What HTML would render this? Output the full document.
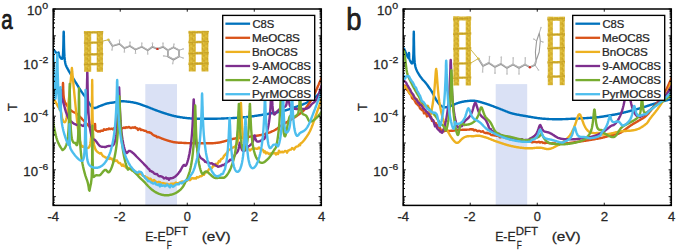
<!DOCTYPE html>
<html><head><meta charset="utf-8"><style>
html,body{margin:0;padding:0;background:#fff;}
body{width:677px;height:251px;overflow:hidden;}
svg{display:block;}
text{font-family:"Liberation Sans", sans-serif;fill:#262626;stroke:#262626;stroke-width:0.25px;}
.tk{font-size:12.5px;}
.sup{font-size:9px;}
.xl{font-size:12.5px;}
.sub{font-size:9.3px;}
.lg{font-size:11px;fill:#000;}
.pl{font-size:22px;fill:#000;}
</style></head><body>
<svg width="677" height="251" viewBox="0 0 677 251">
<defs>
<clipPath id="ca"><rect x="53.2" y="9.0" width="268.10" height="196.40"/></clipPath>
<clipPath id="cb"><rect x="403.2" y="9.0" width="268.10" height="196.40"/></clipPath>
</defs>
<rect x="145.3" y="84.1" width="31.7" height="121.3" fill="#dae1f5"/>
<rect x="495.7" y="84.1" width="31.5" height="121.3" fill="#dae1f5"/>
<g clip-path="url(#ca)">
<path d="M53.0,49.0L53.5,49.6L53.7,49.8L54.0,50.2L54.1,50.3L54.5,50.8L54.9,51.2L55.0,51.3L55.5,51.9L56.0,52.5L56.1,52.6L56.5,53.0L56.7,53.3L57.0,53.5L57.3,53.8L57.5,53.9L57.6,54.0L57.9,54.0L58.0,53.9L58.0,53.9L58.2,53.5L58.3,53.2L58.4,52.8L58.4,52.5L58.5,52.4L58.5,52.4L58.5,52.5L58.6,52.7L58.6,53.1L58.7,53.6L58.8,54.1L58.9,54.6L59.0,54.8L59.0,55.0L59.1,55.3L59.4,56.0L59.5,56.2L59.7,56.6L60.0,57.0L60.3,57.4L60.5,57.7L60.9,58.2L61.0,58.3L61.3,58.6L61.5,58.7L62.0,58.9L62.1,58.8L62.5,58.1L62.9,55.5L63.0,54.2L63.1,52.6L63.3,47.4L63.4,43.6L63.5,38.9L63.5,36.3L63.6,34.0L63.6,32.5L63.7,31.8L63.7,31.6L63.7,31.8L63.8,32.5L63.8,34.0L63.9,36.4L63.9,39.0L64.0,43.8L64.1,47.8L64.3,53.4L64.5,56.9L64.9,60.9L65.0,61.6L65.3,63.1L65.5,63.9L65.7,64.6L66.0,65.5L66.1,65.8L66.5,66.7L66.9,67.5L67.0,67.7L67.5,68.6L68.0,69.5L68.1,69.7L68.5,70.4L69.0,71.3L69.5,72.1L70.0,73.0L70.1,73.2L70.5,73.8L71.0,74.7L71.5,75.5L72.0,76.3L72.5,77.2L72.9,77.8L73.0,78.0L73.3,78.5L73.5,78.8L74.0,79.6L74.5,80.4L75.0,81.3L75.5,82.1L76.0,82.9L76.5,83.7L77.0,84.5L77.5,85.3L77.7,85.7L78.0,86.2L78.5,87.0L79.0,87.8L79.5,88.6L80.0,89.5L80.5,90.2L81.0,91.0L81.5,91.7L82.0,92.4L82.5,93.1L83.0,93.8L83.5,94.5L84.0,95.2L84.5,95.9L85.0,96.6L85.5,97.3L86.0,98.0L86.5,98.8L87.0,99.6L87.5,100.5L88.0,101.4L88.5,102.2L89.0,103.1L89.5,103.8L90.0,104.5L90.5,105.1L91.0,105.8L91.5,106.4L92.0,106.9L92.5,107.3L93.0,107.7L93.5,107.9L94.0,108.0L94.5,108.0L95.0,108.0L95.5,107.9L96.0,107.7L96.5,107.5L97.0,107.3L97.5,107.1L98.0,106.8L98.5,106.6L99.0,106.4L99.5,106.2L100.0,106.0L100.5,105.8L101.0,105.6L101.5,105.4L102.0,105.3L102.5,105.1L103.0,104.9L103.5,104.7L104.0,104.5L104.5,104.3L105.0,104.1L105.5,103.9L106.0,103.8L106.5,103.6L107.0,103.5L107.5,103.4L108.0,103.3L108.5,103.2L109.0,103.1L109.5,103.0L110.0,102.9L110.5,102.9L111.0,102.8L111.5,102.7L112.0,102.7L112.5,102.6L113.0,102.5L113.5,102.5L114.0,102.4L114.5,102.3L115.0,102.2L115.5,102.1L116.0,102.0L116.5,101.9L117.0,101.9L117.5,101.8L118.0,101.7L118.5,101.6L119.0,101.5L119.5,101.4L120.0,101.4L120.5,101.3L121.0,101.3L121.5,101.3L122.0,101.3L122.5,101.3L123.0,101.3L123.5,101.3L124.0,101.3L124.5,101.4L125.0,101.4L125.5,101.4L126.0,101.5L126.5,101.5L127.0,101.6L127.5,101.6L128.0,101.7L128.5,101.8L129.0,101.8L129.5,101.9L130.0,101.9L130.5,102.0L131.0,102.1L131.5,102.1L132.0,102.2L132.5,102.3L133.0,102.4L133.5,102.5L134.0,102.6L134.5,102.7L135.0,102.8L135.5,102.9L136.0,103.0L136.5,103.1L137.0,103.3L137.5,103.4L138.0,103.6L138.5,103.7L139.0,103.9L139.5,104.0L140.0,104.2L140.5,104.4L141.0,104.6L141.5,104.7L142.0,104.9L142.5,105.1L143.0,105.3L143.5,105.5L144.0,105.6L144.5,105.8L145.0,106.0L145.5,106.2L146.0,106.4L146.5,106.6L147.0,106.7L147.5,106.9L148.0,107.1L148.5,107.3L149.0,107.5L149.5,107.7L150.0,107.9L150.5,108.1L151.0,108.3L151.5,108.5L152.0,108.7L152.5,108.9L153.0,109.1L153.5,109.3L154.0,109.5L154.5,109.7L155.0,109.9L155.5,110.1L156.0,110.3L156.5,110.4L157.0,110.6L157.5,110.8L158.0,111.0L158.5,111.2L159.0,111.4L159.5,111.5L160.0,111.7L160.5,111.9L161.0,112.1L161.5,112.2L162.0,112.4L162.5,112.6L163.0,112.7L163.5,112.9L164.0,113.1L164.5,113.2L165.0,113.4L165.5,113.5L166.0,113.7L166.5,113.8L167.0,114.0L167.5,114.2L168.0,114.3L168.5,114.5L169.0,114.6L169.5,114.8L170.0,114.9L170.5,115.0L171.0,115.2L171.5,115.3L172.0,115.5L172.5,115.6L173.0,115.7L173.5,115.8L174.0,116.0L174.5,116.1L175.0,116.2L175.5,116.3L176.0,116.4L176.5,116.5L177.0,116.6L177.5,116.7L178.0,116.8L178.5,116.9L179.0,117.0L179.5,117.0L180.0,117.1L180.5,117.2L181.0,117.3L181.5,117.4L182.0,117.4L182.5,117.5L183.0,117.6L183.5,117.7L184.0,117.7L184.5,117.8L185.0,117.9L185.5,117.9L186.0,118.0L186.5,118.0L187.0,118.1L187.5,118.1L188.0,118.2L188.5,118.2L189.0,118.3L189.5,118.3L190.0,118.4L190.5,118.4L191.0,118.5L191.5,118.5L192.0,118.5L192.5,118.6L193.0,118.6L193.5,118.6L194.0,118.6L194.5,118.6L195.0,118.7L195.5,118.7L196.0,118.7L196.5,118.7L197.0,118.7L197.5,118.7L198.0,118.8L198.5,118.8L199.0,118.8L199.5,118.8L200.0,118.8L200.5,118.8L201.0,118.8L201.5,118.8L202.0,118.8L202.5,118.8L203.0,118.8L203.5,118.8L204.0,118.8L204.5,118.8L205.0,118.8L205.5,118.8L206.0,118.8L206.5,118.8L207.0,118.8L207.5,118.8L208.0,118.8L208.5,118.8L209.0,118.8L209.5,118.8L210.0,118.8L210.5,118.8L211.0,118.8L211.5,118.8L212.0,118.8L212.5,118.7L213.0,118.7L213.5,118.7L214.0,118.7L214.5,118.7L215.0,118.7L215.5,118.7L216.0,118.7L216.5,118.7L217.0,118.7L217.5,118.6L218.0,118.6L218.5,118.6L219.0,118.6L219.5,118.6L220.0,118.6L220.5,118.6L221.0,118.6L221.5,118.5L222.0,118.5L222.5,118.5L223.0,118.5L223.5,118.5L224.0,118.5L224.5,118.4L225.0,118.4L225.5,118.4L226.0,118.4L226.5,118.4L227.0,118.3L227.5,118.3L228.0,118.3L228.5,118.3L229.0,118.2L229.5,118.2L230.0,118.2L230.5,118.2L231.0,118.1L231.5,118.1L232.0,118.1L232.5,118.1L233.0,118.0L233.5,118.0L234.0,118.0L234.5,118.0L235.0,117.9L235.5,117.9L236.0,117.9L236.5,117.9L237.0,117.8L237.5,117.8L238.0,117.8L238.5,117.7L239.0,117.7L239.5,117.7L240.0,117.6L240.5,117.6L241.0,117.6L241.5,117.5L242.0,117.5L242.5,117.4L243.0,117.4L243.5,117.3L244.0,117.3L244.5,117.2L245.0,117.2L245.5,117.1L246.0,117.1L246.5,117.0L247.0,117.0L247.5,116.9L248.0,116.9L248.5,116.8L249.0,116.7L249.5,116.7L250.0,116.6L250.5,116.6L251.0,116.5L251.5,116.4L252.0,116.4L252.5,116.3L253.0,116.2L253.5,116.2L254.0,116.1L254.5,116.0L255.0,115.9L255.5,115.9L256.0,115.8L256.5,115.7L257.0,115.6L257.5,115.6L258.0,115.5L258.5,115.4L259.0,115.3L259.5,115.3L260.0,115.2L260.5,115.1L261.0,115.0L261.5,115.0L262.0,114.9L262.5,114.8L263.0,114.7L263.5,114.7L264.0,114.6L264.5,114.5L265.0,114.4L265.5,114.3L266.0,114.2L266.5,114.2L267.0,114.1L267.5,114.0L268.0,113.9L268.5,113.8L269.0,113.7L269.5,113.6L270.0,113.6L270.5,113.5L271.0,113.4L271.5,113.3L272.0,113.2L272.5,113.1L273.0,113.0L273.5,112.9L274.0,112.8L274.5,112.7L275.0,112.6L275.5,112.5L276.0,112.4L276.5,112.4L277.0,112.3L277.5,112.2L278.0,112.1L278.5,112.0L279.0,111.9L279.5,111.8L280.0,111.7L280.5,111.6L281.0,111.5L281.5,111.4L282.0,111.2L282.5,111.1L283.0,111.0L283.5,110.9L284.0,110.8L284.5,110.6L285.0,110.5L285.5,110.4L286.0,110.2L286.5,110.1L287.0,109.9L287.5,109.8L288.0,109.6L288.5,109.5L289.0,109.3L289.5,109.1L290.0,109.0L290.5,108.8L291.0,108.6L291.5,108.4L292.0,108.3L292.5,108.1L293.0,107.9L293.5,107.7L294.0,107.6L294.5,107.4L295.0,107.2L295.5,107.0L296.0,106.9L296.5,106.7L297.0,106.5L297.5,106.3L298.0,106.2L298.5,106.0L299.0,105.8L299.5,105.6L300.0,105.5L300.5,105.3L301.0,105.1L301.5,104.9L302.0,104.7L302.5,104.6L303.0,104.4L303.5,104.2L304.0,103.9L304.5,103.7L305.0,103.5L305.5,103.3L306.0,103.0L306.5,102.8L307.0,102.5L307.5,102.2L308.0,101.9L308.5,101.6L309.0,101.4L309.5,101.1L310.0,100.8L310.5,100.4L311.0,100.1L311.5,99.8L312.0,99.5L312.5,99.2L313.0,98.8L313.5,98.5L314.0,98.1L314.5,97.7L315.0,97.3L315.5,96.9L316.0,96.5L316.5,96.1L317.0,95.6L317.5,95.2L318.0,94.7L318.5,94.3L319.0,93.8L319.5,93.4L320.0,92.9L320.5,92.4L321.0,92.0L321.5,91.5" stroke="#0072BD" stroke-width="2.4" fill="none" stroke-linejoin="round" stroke-linecap="round"/>
<path d="M53.0,80.0L53.5,81.0L54.0,82.0L54.5,83.0L55.0,84.0L55.5,85.0L56.0,86.0L56.5,87.0L57.0,88.0L57.5,89.0L58.0,90.1L58.5,91.2L59.0,92.3L59.5,93.3L60.0,94.3L60.5,95.2L61.0,96.0L61.5,96.5L62.0,96.4L62.2,95.6L62.5,93.5L62.6,91.5L62.8,88.5L62.8,86.7L62.9,84.9L62.9,83.7L63.0,83.2L63.0,83.0L63.0,83.2L63.1,83.8L63.1,85.0L63.2,86.9L63.2,88.8L63.4,92.1L63.5,94.5L63.8,97.5L64.0,99.1L64.5,101.0L65.0,102.2L65.5,103.2L66.0,104.0L66.5,104.8L67.0,105.6L67.5,106.3L68.0,107.0L68.5,107.7L69.0,108.3L69.5,108.9L70.0,109.5L70.5,110.0L71.0,110.5L71.5,110.9L72.0,111.2L72.5,111.5L73.0,111.8L73.5,112.0L74.0,112.3L74.5,112.5L75.0,112.7L75.5,113.0L76.0,113.3L76.5,113.6L77.0,114.0L77.5,114.4L78.0,114.9L78.5,115.3L79.0,115.8L79.5,116.3L80.0,116.8L80.5,117.3L81.0,117.9L81.5,118.4L82.0,118.9L82.2,119.1L82.5,119.5L83.0,120.0L83.5,120.5L84.0,121.0L84.5,121.5L85.0,122.0L85.4,122.5L85.5,122.6L86.0,123.1L86.5,123.6L87.0,124.2L87.5,124.7L88.0,125.2L88.5,125.7L88.6,125.8L89.0,126.2L89.5,126.6L90.0,127.0L90.2,127.2L90.5,127.4L91.0,127.7L91.5,128.1L91.8,128.3L92.0,128.4L92.5,128.7L92.6,128.8L93.0,129.0L93.4,129.2L93.5,129.3L93.8,129.4L94.0,129.4L94.2,129.4L94.4,129.2L94.5,128.9L94.6,128.5L94.7,127.8L94.8,126.6L94.8,125.8L94.9,125.0L94.9,124.4L95.0,124.1L95.0,124.0L95.0,124.1L95.1,124.4L95.1,125.0L95.2,125.9L95.2,126.8L95.3,128.1L95.4,128.9L95.5,129.4L95.6,129.7L95.8,130.1L96.0,130.4L96.2,130.6L96.5,130.8L96.6,130.8L97.0,131.0L97.4,131.1L97.5,131.1L98.0,131.6L98.2,131.5L98.5,131.4L99.0,131.1L99.5,131.3L99.8,131.5L100.0,131.6L100.5,131.1L101.0,130.6L101.4,130.7L101.5,130.8L102.0,130.9L102.5,130.8L103.0,130.7L103.5,130.0L104.0,129.2L104.5,129.6L104.6,129.7L105.0,129.9L105.5,129.8L106.0,129.7L106.5,129.4L107.0,129.1L107.5,129.3L107.8,129.3L108.0,129.4L108.5,128.9L109.0,128.4L109.5,128.8L110.0,129.1L110.5,129.0L111.0,128.9L111.5,128.7L112.0,128.6L112.5,129.0L113.0,129.5L113.5,128.8L114.0,128.2L114.5,128.0L115.0,127.7L115.5,127.3L116.0,126.5L116.5,125.6L116.8,124.3L117.0,121.7L117.1,119.2L117.2,115.8L117.3,113.8L117.4,111.9L117.4,110.7L117.5,110.1L117.5,109.8L117.5,110.0L117.6,110.6L117.6,111.7L117.7,113.6L117.8,115.5L117.9,118.7L118.0,121.0L118.2,124.0L118.5,125.7L119.0,127.4L119.5,127.3L120.0,127.0L120.5,127.3L121.0,127.6L121.5,128.0L122.0,128.5L122.5,128.3L123.0,128.0L123.5,127.8L124.0,127.5L124.5,127.7L125.0,128.0L125.5,127.6L126.0,127.2L126.5,127.4L127.0,127.6L127.5,127.5L128.0,127.3L128.5,127.1L129.0,126.9L129.5,127.3L130.0,127.7L130.5,127.9L131.0,128.1L131.5,127.9L132.0,127.6L132.5,127.5L133.0,127.4L133.5,127.6L134.0,127.8L134.5,127.5L135.0,127.1L135.5,127.6L136.0,128.2L136.5,128.2L137.0,128.1L137.5,129.0L138.0,129.9L138.5,129.4L139.0,128.9L139.5,128.7L140.0,128.6L140.5,129.3L141.0,130.1L141.5,129.9L142.0,129.8L142.5,130.0L143.0,130.2L143.5,130.4L144.0,130.6L144.5,130.7L145.0,130.9L145.5,130.9L146.0,131.0L146.5,131.5L147.0,132.0L147.5,132.1L148.0,132.2L148.5,132.1L149.0,132.1L149.5,132.4L150.0,132.7L150.5,132.8L151.0,132.9L151.5,133.4L152.0,134.0L152.5,134.4L153.0,134.8L153.5,135.1L154.0,135.3L154.5,135.6L155.0,135.9L155.5,135.9L156.0,136.0L156.5,136.7L157.0,137.3L157.5,137.1L158.0,136.9L158.5,137.2L159.0,137.4L159.5,137.5L160.0,137.6L160.5,138.0L161.0,138.2L161.5,138.4L162.0,138.6L162.5,138.8L163.0,138.9L163.5,139.1L164.0,139.3L164.5,139.5L165.0,139.6L165.5,139.8L166.0,140.0L166.5,140.1L167.0,140.3L167.5,140.5L168.0,140.6L168.5,140.8L169.0,140.9L169.5,141.1L170.0,141.2L170.5,141.3L171.0,141.5L171.5,141.6L172.0,141.7L172.5,141.9L173.0,142.0L173.5,142.1L174.0,142.2L174.5,142.3L175.0,142.3L175.5,142.4L176.0,142.5L176.5,142.5L177.0,142.5L177.5,142.6L178.0,142.6L178.5,142.7L179.0,142.7L179.5,142.7L180.0,142.8L180.5,142.8L181.0,142.8L181.5,142.8L182.0,142.9L182.5,142.9L183.0,142.9L183.5,142.9L184.0,143.0L184.5,143.0L185.0,143.0L185.5,143.0L186.0,143.0L186.5,143.1L187.0,143.1L187.5,143.1L188.0,143.1L188.5,143.1L189.0,143.1L189.5,143.1L190.0,143.2L190.5,143.2L191.0,143.2L191.5,143.2L192.0,143.2L192.5,143.2L193.0,143.2L193.5,143.2L194.0,143.2L194.5,143.3L195.0,143.3L195.5,143.3L196.0,143.3L196.5,143.3L197.0,143.3L197.5,143.3L198.0,143.3L198.5,143.3L199.0,143.3L199.5,143.3L200.0,143.3L200.5,143.3L201.0,143.3L201.5,143.3L202.0,143.3L202.5,143.3L203.0,143.3L203.5,143.3L204.0,143.3L204.5,143.3L205.0,143.3L205.5,143.3L206.0,143.3L206.5,143.3L207.0,143.3L207.5,143.3L208.0,143.3L208.5,143.3L209.0,143.3L209.5,143.3L210.0,143.3L210.5,143.3L211.0,143.3L211.5,143.2L212.0,143.2L212.5,143.2L213.0,143.2L213.5,143.1L214.0,143.1L214.5,143.1L215.0,143.0L215.5,143.0L216.0,142.9L216.5,142.9L217.0,142.8L217.5,142.8L218.0,142.7L218.5,142.6L219.0,142.5L219.5,142.5L220.0,142.4L220.5,142.3L221.0,142.2L221.5,142.0L222.0,141.9L222.5,141.8L223.0,141.7L223.5,141.5L224.0,141.4L224.5,141.3L225.0,141.1L225.5,141.0L226.0,140.8L226.5,140.7L227.0,140.5L227.5,140.4L228.0,140.2L228.5,140.1L229.0,140.0L229.5,139.8L230.0,139.7L230.5,139.5L231.0,139.4L231.5,139.3L232.0,139.1L232.5,139.0L233.0,138.9L233.5,138.8L234.0,138.7L234.5,138.6L235.0,138.5L235.5,138.4L236.0,138.3L236.5,138.2L237.0,138.2L237.5,138.1L238.0,138.0L238.5,137.9L239.0,137.9L239.5,137.8L240.0,137.7L240.5,137.7L241.0,137.6L241.5,137.6L242.0,137.5L242.5,137.4L243.0,137.4L243.5,137.3L244.0,137.3L244.5,137.2L245.0,137.2L245.5,137.1L246.0,137.1L246.5,137.0L247.0,136.9L247.5,136.9L248.0,136.8L248.5,136.8L249.0,136.7L249.5,136.7L250.0,136.6L250.5,136.6L251.0,136.5L251.5,136.5L252.0,136.4L252.5,136.3L253.0,136.3L253.5,136.2L254.0,136.1L254.5,136.1L255.0,136.0L255.5,135.9L256.0,135.8L256.5,135.8L257.0,135.7L257.5,135.6L258.0,135.5L258.5,135.5L259.0,135.4L259.5,135.3L260.0,135.2L260.5,135.1L261.0,135.0L261.5,134.9L262.0,134.8L262.5,134.7L263.0,134.6L263.5,134.4L264.0,134.3L264.5,134.1L265.0,134.0L265.5,133.8L266.0,133.7L266.5,133.5L267.0,133.4L267.5,133.2L268.0,133.0L268.5,132.8L269.0,132.6L269.5,132.5L270.0,132.3L270.5,132.1L271.0,131.9L271.5,131.6L272.0,131.4L272.5,131.2L273.0,131.0L273.5,130.8L274.0,130.5L274.5,130.3L275.0,130.0L275.5,129.7L276.0,129.4L276.5,129.1L277.0,128.8L277.5,128.4L278.0,128.0L278.5,127.6L279.0,127.2L279.5,126.8L280.0,126.4L280.5,126.0L281.0,125.7L281.5,125.3L282.0,125.0L282.5,124.7L283.0,124.4L283.5,124.1L284.0,123.8L284.5,123.5L285.0,123.2L285.5,122.9L286.0,122.6L286.5,122.3L287.0,122.0L287.5,121.7L288.0,121.4L288.5,121.1L289.0,120.8L289.5,120.6L290.0,120.2L290.5,119.9L291.0,119.6L291.5,119.3L292.0,119.0L292.5,118.7L293.0,118.4L293.5,118.0L294.0,117.7L294.5,117.4L295.0,117.1L295.5,116.7L296.0,116.4L296.5,116.1L297.0,115.7L297.5,115.4L298.0,115.0L298.5,114.7L299.0,114.3L299.5,114.0L300.0,113.6L300.5,113.2L301.0,112.8L301.5,112.4L302.0,112.0L302.5,111.6L303.0,111.1L303.5,110.6L304.0,110.1L304.5,109.6L305.0,109.0L305.5,108.4L306.0,107.7L306.5,107.1L307.0,106.4L307.5,105.7L308.0,105.0L308.5,104.3L309.0,103.5L309.5,102.8L310.0,102.0L310.5,101.2L311.0,100.3L311.5,99.5L312.0,98.6L312.5,97.7L313.0,96.9L313.5,95.9L314.0,95.0L314.5,94.0L315.0,93.0L315.5,91.9L316.0,90.7L316.5,89.6L317.0,88.4L317.5,87.2L318.0,86.0L318.5,84.9L319.0,83.7L319.5,82.6L320.0,81.4L320.5,80.3L321.0,79.1L321.5,78.0" stroke="#D95319" stroke-width="2.4" fill="none" stroke-linejoin="round" stroke-linecap="round"/>
<path d="M53.0,97.0L53.5,98.0L54.0,98.9L54.3,99.5L54.5,99.9L55.0,100.8L55.5,101.8L56.0,102.7L56.5,103.7L57.0,104.6L57.5,105.5L58.0,106.3L58.5,107.2L58.6,107.3L58.7,107.5L59.0,108.0L59.5,108.9L60.0,109.8L60.5,110.8L61.0,112.0L61.5,114.1L62.0,117.8L62.5,119.5L63.0,120.6L63.1,120.8L63.5,121.4L64.0,122.0L64.5,122.2L65.0,122.1L65.3,121.8L65.5,121.4L66.0,120.1L66.5,118.0L67.0,115.1L67.5,111.5L68.0,107.4L68.5,102.8L68.6,101.9L69.0,98.0L69.5,93.0L69.7,91.0L70.0,87.9L70.2,85.3L70.5,82.7L70.8,79.6L71.0,77.5L71.1,76.7L71.3,73.8L71.5,72.2L71.6,71.5L71.7,69.7L71.9,68.0L72.0,69.1L72.1,69.7L72.2,71.5L72.5,73.8L72.5,74.3L72.7,76.7L73.0,79.6L73.5,84.8L73.5,85.4L74.0,90.1L74.1,91.1L74.5,95.3L75.0,100.4L75.2,102.5L75.5,105.5L76.0,110.5L76.3,113.4L76.5,115.4L77.0,120.1L77.5,124.5L77.8,127.0L78.0,128.7L78.5,132.4L79.0,135.7L79.5,138.6L80.0,141.0L80.5,142.9L80.7,143.6L81.0,144.5L81.5,145.7L82.0,146.5L82.5,146.8L83.0,146.3L83.5,146.5L84.0,147.0L84.5,147.4L85.0,147.7L85.1,147.7L85.5,147.9L86.0,148.0L86.5,148.1L87.0,148.1L87.1,148.1L87.4,148.1L87.5,148.1L88.0,148.0L88.4,147.8L88.5,147.7L89.0,147.3L89.5,146.5L89.6,146.2L90.0,145.2L90.3,144.0L90.5,142.8L90.9,139.2L91.0,138.2L91.2,134.6L91.5,128.8L91.6,127.0L91.7,121.1L91.9,112.6L92.0,106.6L92.0,102.9L92.0,98.6L92.1,93.7L92.1,88.0L92.1,85.2L92.2,82.6L92.2,81.0L92.2,80.3L92.2,80.0L92.2,80.3L92.2,81.0L92.2,82.6L92.3,85.2L92.3,88.0L92.3,93.7L92.4,98.6L92.4,106.6L92.5,111.2L92.5,112.6L92.7,121.2L92.8,127.1L93.0,131.5L93.2,134.8L93.5,139.6L93.5,139.8L94.0,144.1L94.1,144.9L94.5,146.7L94.8,147.6L95.0,148.3L95.5,149.5L96.0,150.3L96.0,150.3L96.5,150.9L97.0,151.5L97.3,151.8L97.5,151.9L98.0,152.3L98.3,152.5L98.5,152.7L99.0,153.0L99.5,153.3L100.0,153.6L100.5,153.3L101.0,152.9L101.5,153.8L101.8,154.3L102.0,154.7L102.5,155.4L103.0,156.1L103.5,156.3L104.0,156.5L104.5,156.8L105.0,157.2L105.5,157.4L106.0,157.7L106.5,158.0L106.6,158.1L107.0,158.3L107.1,158.2L107.5,157.8L108.0,157.2L108.5,158.1L109.0,158.9L109.5,158.3L110.0,157.7L110.5,158.3L111.0,158.9L111.4,158.8L111.5,158.7L112.0,158.6L112.5,159.6L112.6,159.9L113.0,160.7L113.5,161.0L113.8,161.1L114.0,161.2L114.4,160.8L114.5,160.7L115.0,160.2L115.3,160.4L115.5,160.5L115.6,160.6L115.8,160.7L116.0,160.9L116.0,160.9L116.2,160.6L116.4,160.5L116.5,160.4L116.6,160.4L116.8,160.4L117.0,160.4L117.1,160.6L117.4,161.2L117.5,161.4L118.0,162.2L118.5,162.6L118.6,162.7L119.0,163.0L119.5,163.0L119.8,163.0L120.0,162.9L120.5,163.7L121.0,164.4L121.5,165.1L122.0,165.8L122.5,165.2L123.0,164.5L123.4,165.1L123.5,165.3L124.0,166.1L124.5,166.0L124.7,166.0L125.0,165.9L125.5,166.8L125.8,167.2L126.0,167.6L126.5,167.4L127.0,167.3L127.5,167.6L128.0,167.9L128.5,168.1L129.0,168.4L129.5,168.5L130.0,168.7L130.5,168.5L130.6,168.4L131.0,168.3L131.5,169.4L132.0,170.5L132.5,170.0L133.0,169.5L133.5,170.3L134.0,171.1L134.5,171.6L135.0,172.0L135.4,171.9L135.5,171.9L136.0,171.7L136.5,172.3L137.0,172.9L137.5,173.5L138.0,174.1L138.5,174.1L139.0,174.0L139.5,174.0L140.0,174.0L140.5,173.6L141.0,173.2L141.5,174.1L142.0,174.9L142.3,175.1L142.5,175.3L143.0,175.6L143.5,175.9L144.0,176.1L144.5,176.2L145.0,176.3L145.5,176.9L146.0,177.6L146.5,177.5L147.0,177.4L147.5,177.8L148.0,178.2L148.5,178.6L149.0,179.1L149.5,178.8L150.0,178.6L150.5,178.9L151.0,179.3L151.5,180.2L152.0,181.2L152.5,181.0L153.0,180.8L153.5,180.3L154.0,179.9L154.5,180.4L154.6,180.5L155.0,181.0L155.5,181.3L156.0,181.7L156.5,182.0L157.0,182.4L157.5,182.2L158.0,182.1L158.5,182.0L159.0,182.0L159.5,182.1L160.0,182.1L160.5,182.7L161.0,183.2L161.5,183.3L162.0,183.3L162.5,183.1L163.0,183.0L163.5,183.2L164.0,183.4L164.5,183.4L165.0,183.5L165.5,183.9L166.0,184.3L166.5,183.9L167.0,183.6L167.5,184.0L168.0,184.4L168.5,184.5L169.0,184.7L169.5,184.6L170.0,184.5L170.5,184.0L171.0,183.6L171.5,184.3L172.0,184.9L172.5,184.2L173.0,183.5L173.5,183.8L173.8,184.0L174.0,184.1L174.5,183.6L175.0,183.2L175.5,182.8L176.0,182.5L176.5,183.0L177.0,183.4L177.5,183.4L178.0,183.2L178.5,183.0L179.0,182.8L179.5,182.7L180.0,182.7L180.5,182.3L181.0,181.8L181.5,181.6L182.0,181.5L182.5,181.5L183.0,181.5L183.5,182.0L184.0,182.4L184.5,182.0L185.0,181.5L185.5,181.0L186.0,180.4L186.5,180.6L187.0,180.8L187.5,180.4L188.0,179.9L188.5,179.8L189.0,179.7L189.5,179.9L190.0,180.2L190.5,179.7L191.0,179.1L191.5,178.6L192.0,178.1L192.5,178.2L193.0,178.3L193.5,178.4L194.0,178.6L194.5,178.4L194.9,178.3L195.0,178.2L195.5,178.4L196.0,178.6L196.5,177.8L197.0,177.0L197.5,177.3L198.0,177.5L198.5,177.3L199.0,177.0L199.5,176.6L200.0,176.2L200.5,176.3L201.0,176.4L201.5,176.0L202.0,175.7L202.5,175.0L203.0,174.3L203.5,174.5L204.0,174.8L204.5,173.7L205.0,172.6L205.5,172.6L206.0,172.5L206.5,172.0L207.0,171.5L207.5,171.2L208.0,170.8L208.5,170.0L209.0,169.2L209.5,169.0L210.0,168.8L210.5,168.4L210.9,168.0L211.0,168.0L211.5,167.9L212.0,167.9L212.1,167.7L212.5,167.0L213.0,166.2L213.5,166.1L214.0,166.0L214.5,165.5L215.0,165.1L215.5,164.4L216.0,163.7L216.5,164.5L217.0,165.3L217.5,164.0L218.0,162.8L218.5,161.9L219.0,160.9L219.3,161.1L219.5,161.3L220.0,161.6L220.5,160.3L221.0,159.1L221.5,158.9L222.0,158.8L222.5,158.4L223.0,158.0L223.5,156.9L224.0,155.9L224.5,155.4L225.0,154.9L225.5,154.3L226.0,153.7L226.5,153.3L226.9,153.0L227.0,152.9L227.5,151.9L228.0,150.9L228.5,150.4L229.0,149.9L229.5,149.5L230.0,149.3L230.1,149.3L230.5,149.0L231.0,148.6L231.5,148.3L232.0,148.0L232.5,147.8L233.0,147.5L233.5,147.3L233.7,147.1L234.0,147.0L234.5,146.7L234.9,146.4L235.0,146.3L235.5,145.8L236.0,145.2L236.5,144.4L237.0,143.4L237.3,142.6L237.5,142.0L238.0,140.2L238.2,139.3L238.5,137.6L239.0,134.0L239.1,133.1L239.5,128.7L239.6,128.1L240.0,121.0L240.2,116.3L240.4,110.9L240.5,109.6L240.6,108.1L240.7,105.5L240.8,104.0L240.8,103.3L240.9,103.0L241.0,103.3L241.0,103.6L241.0,104.0L241.1,105.5L241.2,108.1L241.3,110.9L241.5,114.6L241.6,116.3L241.8,121.0L242.0,124.5L242.2,128.2L242.5,131.2L242.7,133.3L242.9,135.1L243.0,135.9L243.5,139.2L243.6,139.7L244.0,141.6L244.5,143.4L245.0,144.8L245.5,146.0L246.0,146.8L246.3,147.3L246.5,147.6L246.9,148.0L247.0,148.1L247.5,148.6L248.0,149.0L248.1,149.1L248.5,149.3L249.0,149.5L249.5,149.6L250.0,150.5L250.5,150.1L250.9,149.6L251.0,149.5L251.5,149.2L251.7,149.0L252.0,148.8L252.5,148.6L252.9,148.5L253.0,148.5L253.5,148.5L254.0,148.6L254.5,148.5L254.9,148.5L255.0,148.4L255.3,148.5L255.5,148.6L255.9,148.7L256.0,148.7L256.5,148.8L256.9,148.8L257.0,148.8L257.4,148.8L257.5,148.7L257.9,148.6L258.0,148.5L258.1,148.3L258.4,147.9L258.5,147.8L258.6,147.7L258.8,147.6L258.9,147.5L259.0,147.5L259.1,147.5L259.2,147.6L259.4,147.7L259.5,147.8L259.6,147.9L259.9,148.1L260.0,148.1L260.4,148.7L260.5,148.9L260.9,149.3L261.0,149.4L261.5,149.5L261.9,149.5L262.0,149.5L262.5,149.7L262.9,149.9L263.0,150.0L263.5,151.1L264.0,152.3L264.5,151.8L264.9,151.4L265.0,151.3L265.5,152.4L266.0,153.5L266.5,153.0L266.9,152.5L267.0,152.4L267.5,152.8L268.0,153.2L268.5,153.6L269.0,154.0L269.5,153.7L269.7,153.6L270.0,153.4L270.5,153.6L270.9,153.8L271.0,153.8L271.5,153.6L272.0,153.4L272.5,153.3L273.0,153.3L273.5,153.4L274.0,153.4L274.5,153.2L274.9,153.1L275.0,153.0L275.5,153.8L276.0,154.5L276.5,153.8L277.0,153.0L277.5,153.6L278.0,154.1L278.5,152.4L279.0,150.7L279.5,151.5L280.0,152.3L280.5,152.3L281.0,152.4L281.5,152.0L282.0,151.6L282.5,151.9L282.9,152.2L283.0,152.3L283.5,152.1L284.0,151.8L284.5,151.4L285.0,150.9L285.5,151.1L286.0,151.2L286.5,151.9L287.0,152.7L287.5,151.7L288.0,150.6L288.5,150.5L289.0,150.4L289.5,150.0L290.0,149.6L290.5,149.6L290.9,149.6L291.0,149.6L291.5,148.9L292.0,148.1L292.5,148.3L293.0,148.4L293.5,149.0L294.0,149.6L294.5,148.8L295.0,147.9L295.5,147.4L296.0,146.9L296.5,146.7L297.0,146.5L297.5,146.4L298.0,146.3L298.5,145.6L299.0,144.8L299.5,145.1L300.0,145.3L300.5,143.6L301.0,143.3L301.5,143.0L302.0,142.5L302.5,142.1L303.0,141.5L303.5,140.9L304.0,140.3L304.5,139.7L305.0,139.0L305.5,138.3L306.0,137.7L306.5,136.9L306.9,136.3L307.0,136.2L307.5,135.4L308.0,134.6L308.5,133.8L309.0,132.9L309.5,132.0L310.0,131.0L310.5,129.9L311.0,128.8L311.5,127.6L312.0,126.3L312.5,125.0L313.0,123.6L313.5,122.2L314.0,120.8L314.5,119.3L315.0,117.8L315.5,116.4L316.0,115.0L316.5,113.6L317.0,112.2L317.5,110.7L318.0,109.3L318.5,107.8L319.0,106.4L319.5,104.9L320.0,103.4L320.5,101.9L321.0,100.5L321.5,99.0" stroke="#EDB120" stroke-width="2.4" fill="none" stroke-linejoin="round" stroke-linecap="round"/>
<path d="M53.0,80.0L53.5,81.3L54.0,82.5L54.5,83.8L54.6,84.0L55.0,85.0L55.5,86.2L56.0,87.5L56.2,88.0L56.5,88.7L57.0,89.9L57.5,91.0L57.8,91.6L58.0,92.0L58.5,92.9L58.6,93.1L59.0,93.8L59.4,94.4L59.5,94.5L59.8,94.9L60.0,95.1L60.2,95.3L60.4,95.3L60.5,95.1L60.6,94.7L60.7,94.0L60.8,92.8L60.9,91.9L60.9,91.0L60.9,90.4L61.0,90.1L61.0,90.0L61.0,90.1L61.1,90.5L61.1,91.2L61.1,92.3L61.2,93.3L61.3,94.9L61.4,95.9L61.5,96.7L61.6,97.2L61.8,98.0L62.0,98.6L62.2,99.2L62.5,100.0L62.6,100.3L63.0,101.5L63.4,102.7L63.5,103.1L64.0,104.9L64.2,105.6L64.5,106.7L65.0,108.6L65.5,110.4L65.8,111.4L66.0,112.0L66.5,113.4L67.0,114.8L67.4,115.8L67.5,116.1L68.0,117.2L68.5,118.2L69.0,119.0L69.5,119.7L70.0,120.3L70.5,120.9L70.6,121.0L71.0,121.4L71.5,121.8L72.0,122.2L72.5,122.6L73.0,123.0L73.5,123.4L73.8,123.5L74.0,123.7L74.5,124.0L75.0,124.2L75.5,124.4L76.0,124.6L76.5,124.8L77.0,125.0L77.5,125.1L77.7,125.1L78.0,125.0L78.5,124.9L79.0,124.8L79.5,124.7L80.0,124.7L80.5,124.8L80.9,124.9L81.0,125.0L81.5,125.2L82.0,125.5L82.5,125.8L83.0,126.0L83.5,125.9L84.0,125.6L84.1,125.4L84.5,124.6L84.9,123.2L85.0,122.7L85.5,119.4L85.7,117.5L86.0,113.8L86.1,112.3L86.5,104.2L86.7,98.4L86.9,90.6L87.0,85.6L87.1,80.0L87.2,77.2L87.2,74.6L87.2,73.0L87.3,72.3L87.3,72.0L87.3,72.3L87.4,73.0L87.4,74.6L87.5,77.2L87.5,80.0L87.6,85.6L87.7,90.6L87.9,98.5L88.0,101.6L88.1,104.4L88.5,112.9L88.9,118.8L89.0,120.0L89.5,125.0L89.7,126.6L90.0,128.7L90.5,131.6L91.0,134.0L91.5,135.9L92.0,137.4L92.1,137.6L92.5,138.5L93.0,139.1L93.5,139.4L93.7,139.4L94.0,139.5L94.5,139.6L95.0,140.0L95.5,140.5L96.0,141.2L96.5,141.8L96.7,142.1L96.9,142.4L97.0,142.5L97.5,143.2L98.0,143.9L98.5,144.5L99.0,145.1L99.5,145.6L100.0,146.0L100.1,146.1L100.5,146.3L101.0,146.5L101.5,146.7L102.0,146.8L102.3,146.8L102.5,146.9L103.0,146.9L103.5,146.9L104.0,146.9L104.5,147.0L105.0,147.0L105.5,147.0L106.0,146.9L106.5,146.6L107.0,146.4L107.5,146.2L107.9,146.1L108.0,146.1L108.5,146.0L109.0,145.9L109.5,145.9L110.0,146.0L110.5,146.0L110.7,146.0L111.0,146.0L111.5,146.0L112.0,145.9L112.5,145.7L113.0,145.3L113.5,144.7L114.0,143.8L114.5,142.7L114.9,141.4L115.0,141.1L115.5,139.0L116.0,136.4L116.3,134.5L116.5,133.0L117.0,128.7L117.5,123.0L117.7,120.1L118.0,115.1L118.0,114.1L118.4,106.1L118.5,103.4L118.6,101.2L118.8,95.5L118.8,92.7L118.9,90.1L119.0,88.5L119.0,88.4L119.0,87.8L119.1,87.5L119.2,87.8L119.2,88.5L119.3,90.1L119.4,92.7L119.5,95.5L119.5,97.2L119.6,101.2L119.8,106.2L120.0,111.0L120.2,114.2L120.5,120.2L121.0,126.9L121.2,129.0L121.5,132.0L121.9,135.3L122.0,136.1L122.5,139.5L123.0,142.3L123.3,143.9L123.5,144.8L124.0,147.0L124.5,148.9L124.7,149.5L125.0,150.4L125.5,151.7L126.0,152.6L126.5,153.1L127.0,153.0L127.5,152.5L128.0,151.8L128.5,151.2L129.0,150.9L129.5,150.9L130.0,151.0L130.3,151.1L130.5,151.2L131.0,151.5L131.5,151.8L132.0,152.2L132.5,152.6L133.0,153.0L133.5,153.4L134.0,153.9L134.5,154.4L135.0,154.9L135.5,155.4L135.9,155.8L136.0,155.9L136.5,156.5L137.0,157.0L137.5,157.5L138.0,158.0L138.5,158.5L139.0,159.0L139.5,159.5L140.0,160.0L140.5,160.5L141.0,161.0L141.5,161.5L142.0,162.0L142.5,162.5L143.0,163.0L143.5,163.5L144.0,164.1L144.5,164.6L145.0,165.1L145.5,165.7L146.0,166.2L146.5,166.7L147.0,167.2L147.5,167.8L148.0,168.3L148.5,168.8L149.0,169.2L149.5,169.7L150.0,171.0L150.5,171.0L151.0,171.0L151.5,171.3L152.0,171.7L152.5,171.8L153.0,172.0L153.5,172.7L154.0,173.3L154.5,173.6L155.0,173.9L155.5,174.0L156.0,174.1L156.5,174.1L157.0,174.0L157.5,174.7L158.0,175.4L158.5,175.8L159.0,176.1L159.5,176.2L160.0,176.2L160.5,176.3L161.0,176.4L161.5,176.5L162.0,176.7L162.5,177.0L163.0,177.3L163.5,177.9L164.0,178.5L164.5,178.3L165.0,178.1L165.5,177.8L166.0,177.4L166.5,178.1L167.0,178.7L167.5,178.5L168.0,178.2L168.1,178.4L168.5,179.0L169.0,179.7L169.5,179.0L170.0,178.3L170.5,178.3L171.0,178.3L171.5,178.2L172.0,178.1L172.5,178.0L173.0,177.9L173.5,177.6L174.0,177.3L174.5,177.0L175.0,176.7L175.5,176.3L176.0,175.8L176.5,175.3L177.0,174.8L177.5,174.4L178.0,173.9L178.5,173.2L179.0,172.4L179.5,171.9L180.0,171.3L180.5,170.4L180.9,169.7L181.0,169.5L181.5,168.5L182.0,167.6L182.5,166.7L183.0,165.9L183.5,165.3L184.0,164.9L184.1,164.9L184.5,165.1L185.0,165.7L185.5,165.8L186.0,165.4L186.5,164.5L187.0,163.2L187.3,162.3L187.5,161.7L188.0,160.0L188.5,158.1L188.9,156.3L189.0,155.9L189.5,153.5L190.0,150.7L190.5,147.5L191.0,143.7L191.3,141.1L191.5,139.2L192.0,133.5L192.1,132.2L192.5,126.1L192.9,118.1L193.0,115.7L193.1,113.1L193.3,107.5L193.4,104.6L193.5,102.0L193.6,100.4L193.6,99.7L193.7,99.4L193.8,99.7L193.8,100.4L193.9,102.0L194.0,104.6L194.1,107.5L194.3,113.1L194.5,118.1L194.9,126.1L195.0,127.7L195.3,132.1L195.5,134.6L196.0,139.9L196.1,140.8L196.5,144.0L196.9,146.7L197.0,147.3L197.5,149.9L198.0,152.1L198.5,153.8L199.0,155.1L199.5,156.2L200.0,157.0L200.1,157.1L200.5,157.6L201.0,158.1L201.5,158.5L202.0,158.8L202.5,159.1L203.0,159.5L203.3,159.8L203.5,160.0L204.0,160.4L204.5,160.7L205.0,161.7L205.5,161.8L206.0,161.9L206.5,162.2L207.0,162.5L207.5,162.4L208.0,162.3L208.5,162.5L209.0,162.7L209.5,163.0L210.0,163.4L210.5,163.4L211.0,163.5L211.5,163.3L212.0,163.2L212.5,163.8L212.9,164.3L213.0,164.4L213.5,164.4L214.0,164.3L214.5,164.5L215.0,164.7L215.5,165.2L216.0,165.7L216.5,165.8L217.0,166.0L217.5,166.4L218.0,166.7L218.5,166.7L219.0,166.5L219.3,166.4L219.5,166.3L220.0,166.1L220.5,166.0L221.0,166.0L221.5,165.6L222.0,165.3L222.5,165.1L223.0,164.9L223.5,165.0L224.0,165.1L224.5,164.6L225.0,164.0L225.5,163.5L226.0,163.0L226.5,162.7L227.0,162.4L227.5,162.0L228.0,161.6L228.5,161.4L229.0,161.2L229.5,160.5L230.0,159.8L230.5,159.9L231.0,160.0L231.5,159.4L232.0,158.7L232.5,158.5L233.0,158.2L233.5,157.5L234.0,156.7L234.5,155.7L235.0,154.8L235.5,154.0L236.0,153.5L236.5,153.0L237.0,152.4L237.5,151.6L238.0,150.6L238.5,149.1L239.0,146.9L239.2,145.5L239.5,144.1L239.7,143.2L239.8,142.7L240.0,142.5L240.2,142.7L240.3,143.1L240.5,144.0L240.8,145.3L241.0,146.6L241.5,148.6L242.0,149.8L242.5,150.5L242.7,150.7L243.0,150.9L243.5,151.0L244.0,151.0L244.5,150.8L245.0,150.5L245.5,149.9L246.0,149.2L246.5,148.5L247.0,147.8L247.5,147.3L248.0,146.8L248.5,146.4L249.0,146.0L249.5,145.7L249.9,145.4L250.0,145.3L250.5,144.9L251.0,144.5L251.5,143.9L252.0,143.3L252.5,142.4L253.0,141.1L253.5,139.2L253.8,138.0L254.0,136.8L254.2,136.0L254.3,135.6L254.5,135.4L254.7,135.5L254.8,135.8L255.0,136.6L255.2,137.6L255.5,138.6L256.0,140.1L256.5,141.0L257.0,141.4L257.1,141.5L257.5,141.6L258.0,141.6L258.5,141.6L259.0,141.4L259.2,141.4L259.5,141.3L260.0,141.1L260.5,140.8L260.7,140.7L261.0,140.5L261.5,140.2L262.0,139.9L262.5,139.5L263.0,139.3L263.5,139.2L264.0,139.1L264.3,138.8L264.5,138.5L265.0,137.5L265.5,136.3L266.0,135.0L266.1,134.7L266.4,133.8L266.5,133.5L267.0,131.8L267.5,129.9L267.9,128.2L268.0,127.8L268.5,125.3L268.8,123.6L269.0,122.4L269.5,118.7L269.7,117.0L270.0,113.9L270.1,112.1L270.5,107.1L270.6,105.4L270.8,100.9L271.0,96.9L271.1,95.7L271.2,93.0L271.3,90.5L271.4,89.0L271.4,88.3L271.5,88.0L271.6,88.2L271.6,88.9L271.7,90.4L271.8,92.9L271.9,95.5L272.0,96.6L272.2,100.4L272.4,104.4L272.5,105.9L272.9,109.8L273.0,111.0L273.3,112.7L273.5,113.4L273.6,113.7L274.0,114.3L274.2,114.5L274.5,114.4L275.0,114.2L275.1,114.1L275.5,113.6L276.0,113.0L276.5,112.4L276.9,111.8L277.0,111.7L277.2,111.4L277.5,111.1L278.0,110.6L278.5,110.0L278.7,109.9L279.0,109.6L279.5,109.2L280.0,108.9L280.5,108.6L280.8,108.5L281.0,108.4L281.5,108.1L282.0,107.9L282.3,107.8L282.5,107.7L282.6,107.7L283.0,107.6L283.5,107.4L284.0,107.2L284.4,107.0L284.5,107.0L285.0,106.7L285.3,106.4L285.5,106.2L285.9,105.7L286.0,105.5L286.2,105.1L286.5,104.1L286.6,103.5L287.0,101.3L287.1,100.4L287.3,97.7L287.5,95.0L287.6,94.1L287.7,92.1L287.8,90.1L287.9,88.8L287.9,88.2L288.0,88.0L288.1,88.2L288.1,88.8L288.2,90.1L288.3,92.1L288.4,94.1L288.5,95.0L288.7,97.8L288.9,100.5L289.0,101.4L289.4,103.7L289.5,104.4L289.8,105.4L290.0,105.9L290.5,106.7L290.7,107.0L291.0,107.2L291.5,107.6L291.6,107.7L292.0,107.9L292.5,108.1L293.0,108.3L293.1,108.3L293.4,108.4L293.5,108.5L294.0,108.6L294.5,108.7L295.0,108.8L295.2,108.9L295.5,108.9L296.0,109.0L296.5,109.0L297.0,109.0L297.5,109.0L298.0,109.0L298.5,109.0L298.8,109.0L299.0,109.0L299.5,109.0L300.0,109.0L300.3,109.0L300.5,109.0L301.0,109.0L301.5,109.0L302.0,109.0L302.4,109.0L302.5,109.0L303.0,109.0L303.5,109.0L304.0,109.0L304.5,108.9L305.0,108.9L305.5,108.8L306.0,108.7L306.5,108.6L307.0,108.5L307.5,108.3L308.0,108.0L308.5,107.7L309.0,107.3L309.5,106.8L309.6,106.7L310.0,106.3L310.5,105.7L311.0,105.1L311.5,104.5L312.0,104.0L312.5,103.5L313.0,103.1L313.5,102.7L314.0,102.3L314.5,101.9L315.0,101.4L315.5,100.9L316.0,100.2L316.5,99.4L316.8,98.9L317.0,98.5L317.5,97.4L318.0,96.2L318.5,94.8L319.0,93.4L319.5,92.0L320.0,90.5L320.5,89.0L321.0,87.5L321.5,86.0" stroke="#7E2F8E" stroke-width="2.4" fill="none" stroke-linejoin="round" stroke-linecap="round"/>
<path d="M53.0,122.0L53.5,124.4L54.0,126.9L54.5,129.4L55.0,131.8L55.5,134.0L56.0,136.1L56.5,138.0L57.0,139.6L57.5,141.0L58.0,142.3L58.5,143.4L59.0,144.4L59.5,145.4L60.0,146.3L60.1,146.5L60.5,147.1L61.0,147.9L61.5,148.6L62.0,149.3L62.5,150.1L63.0,149.9L63.5,149.5L64.0,149.0L64.5,148.4L64.9,147.9L65.0,147.7L65.5,146.8L66.0,145.7L66.1,145.5L66.5,144.3L67.0,142.5L67.3,141.0L67.5,139.9L67.9,137.0L68.0,136.1L68.5,130.1L68.8,124.5L69.0,119.4L69.1,116.3L69.2,110.4L69.4,102.6L69.5,97.6L69.5,95.8L69.5,92.0L69.6,89.1L69.6,86.6L69.7,85.0L69.7,84.3L69.7,84.0L69.7,84.3L69.7,85.0L69.8,86.6L69.8,89.1L69.8,92.0L69.9,97.6L70.0,102.6L70.2,110.4L70.3,116.2L70.5,122.0L70.6,124.4L70.9,129.7L71.0,131.1L71.5,136.1L72.0,139.0L72.1,139.4L72.5,140.8L72.6,141.0L73.0,141.8L73.3,142.2L73.5,142.5L74.0,142.8L74.2,142.9L74.5,143.0L75.0,143.1L75.5,142.9L75.8,143.0L76.0,143.9L76.5,145.0L76.6,145.1L76.9,145.2L77.0,145.1L77.4,144.0L77.5,143.5L77.8,141.0L78.0,138.3L78.2,134.5L78.4,128.9L78.5,125.2L78.6,120.5L78.7,114.6L78.8,106.7L78.8,101.7L78.9,96.1L78.9,93.2L79.0,90.7L79.0,89.1L79.0,88.3L79.0,88.1L79.0,88.3L79.0,89.1L79.0,90.7L79.1,93.2L79.1,96.1L79.2,101.7L79.2,106.7L79.3,114.7L79.4,120.7L79.5,125.4L79.6,129.3L79.8,135.4L80.0,140.0L80.2,143.7L80.5,148.1L80.6,149.3L81.0,153.5L81.4,156.8L81.5,157.5L82.0,160.9L82.2,162.0L82.5,163.7L83.0,166.2L83.5,168.4L83.8,169.7L84.0,170.5L84.5,172.4L85.0,174.2L85.4,175.6L85.5,175.9L86.0,177.4L86.5,178.8L87.0,180.2L87.5,181.7L88.0,183.6L88.5,186.3L88.6,186.7L89.0,189.9L89.5,190.7L89.5,190.6L90.0,188.0L90.5,185.5L90.5,185.5L91.0,183.4L91.0,183.2L91.4,180.0L91.5,179.3L91.7,176.6L91.9,170.6L92.0,167.4L92.0,165.5L92.2,157.6L92.2,151.9L92.3,144.1L92.3,139.2L92.3,133.7L92.4,130.8L92.4,128.2L92.4,126.6L92.4,125.9L92.4,125.6L92.4,125.9L92.4,126.6L92.4,128.2L92.4,130.8L92.5,133.6L92.5,139.1L92.5,140.9L92.5,144.0L92.6,151.7L92.6,157.3L92.8,164.8L92.9,169.5L93.0,172.5L93.1,174.4L93.4,176.3L93.5,176.8L93.8,177.0L94.0,176.9L94.3,176.5L94.5,176.3L95.0,175.8L95.3,175.6L95.5,175.5L96.0,175.4L96.2,175.3L96.5,175.3L97.0,175.3L97.5,175.4L98.0,175.4L98.5,175.4L99.0,175.4L99.5,175.3L100.0,175.1L100.5,174.7L101.0,174.2L101.5,173.6L102.0,173.0L102.5,172.3L102.6,172.2L103.0,171.7L103.5,171.1L104.0,170.6L104.5,170.2L105.0,169.9L105.5,169.9L106.0,170.0L106.5,170.4L107.0,171.0L107.5,171.7L108.0,172.2L108.2,172.3L108.5,172.4L109.0,172.2L109.5,171.7L110.0,171.0L110.5,170.1L111.0,169.0L111.5,167.8L112.0,166.5L112.5,165.0L113.0,163.4L113.5,161.6L113.8,160.5L114.0,159.7L114.5,157.5L115.0,155.1L115.2,154.0L115.5,152.3L116.0,149.2L116.5,145.6L116.6,144.8L117.0,141.3L117.3,138.3L117.5,136.0L118.0,129.3L118.3,123.1L118.5,119.9L118.7,115.0L118.9,110.0L119.0,106.0L119.0,104.4L119.1,101.5L119.2,98.9L119.3,97.3L119.3,96.6L119.4,96.3L119.5,96.6L119.5,97.2L119.5,97.3L119.6,98.9L119.7,101.5L119.8,104.4L119.9,110.0L120.0,112.3L120.1,115.0L120.5,123.1L120.5,124.1L120.8,129.3L121.0,132.2L121.5,138.3L122.0,143.1L122.2,144.8L122.5,147.1L123.0,150.6L123.5,153.5L123.6,154.1L124.0,156.2L124.5,158.5L125.0,160.6L125.5,162.6L126.0,164.4L126.5,166.0L127.0,167.5L127.5,168.9L127.8,169.5L128.0,169.7L128.5,169.2L129.0,168.8L129.5,168.8L130.0,169.0L130.5,169.2L130.6,169.3L131.0,169.5L131.5,169.8L132.0,170.1L132.5,170.5L133.0,170.9L133.5,171.3L134.0,171.7L134.5,172.2L135.0,172.7L135.5,173.2L136.0,173.7L136.2,173.9L136.5,174.2L137.0,174.7L137.5,175.2L138.0,175.7L138.5,176.3L139.0,176.8L139.5,177.3L140.0,177.8L140.5,178.3L141.0,178.8L141.5,179.2L141.8,179.5L142.0,179.7L142.5,180.1L143.0,180.6L143.5,181.1L144.0,181.6L144.5,182.1L145.0,182.7L145.5,183.2L146.0,183.8L146.5,184.3L147.0,184.9L147.5,185.4L148.0,186.0L148.5,186.5L149.0,187.0L149.5,187.5L150.0,188.0L150.5,188.4L151.0,188.9L151.5,189.3L152.0,189.7L152.5,190.1L153.0,190.4L153.5,190.8L154.0,191.1L154.5,191.5L155.0,191.8L155.5,192.1L156.0,192.4L156.5,192.7L157.0,192.9L157.5,193.2L158.0,193.4L158.5,193.6L159.0,193.8L159.5,194.0L160.0,194.2L160.5,194.4L161.0,194.5L161.5,194.6L162.0,194.8L162.5,194.9L163.0,195.0L163.5,195.0L164.0,195.1L164.5,195.2L165.0,195.2L165.5,195.2L166.0,195.3L166.5,195.3L167.0,195.3L167.5,195.2L168.0,195.2L168.5,195.2L169.0,195.1L169.5,195.0L170.0,194.9L170.5,194.8L171.0,194.7L171.5,194.6L172.0,194.5L172.5,194.3L173.0,194.1L173.5,194.0L174.0,193.8L174.5,193.5L175.0,193.3L175.5,193.1L176.0,192.8L176.5,192.6L177.0,192.3L177.5,191.9L178.0,191.6L178.5,191.2L179.0,190.9L179.5,190.5L180.0,190.0L180.5,189.6L180.8,189.3L181.0,189.1L181.5,188.5L182.0,188.0L182.5,187.3L183.0,186.7L183.5,185.8L184.0,184.9L184.5,183.9L185.0,182.9L185.5,182.0L185.6,181.8L186.0,181.0L186.5,180.0L187.0,178.9L187.5,177.8L188.0,176.5L188.5,175.1L189.0,173.6L189.5,172.0L190.0,170.2L190.4,168.5L190.5,168.1L191.0,165.7L191.5,163.0L191.6,162.4L192.0,159.9L192.5,156.2L192.8,153.6L193.0,151.6L193.4,147.2L193.5,145.9L194.0,138.3L194.3,132.1L194.5,127.0L194.6,124.1L194.8,119.1L194.9,113.5L195.0,110.6L195.0,109.7L195.1,108.0L195.1,106.4L195.2,105.7L195.2,105.4L195.2,105.7L195.3,106.4L195.3,108.0L195.4,110.6L195.5,113.5L195.7,119.1L195.8,124.1L196.0,129.7L196.1,132.1L196.4,138.3L196.5,140.0L197.0,147.2L197.5,152.6L197.6,153.5L198.0,156.9L198.5,160.4L198.8,162.2L199.0,163.4L199.5,165.9L200.0,168.0L200.5,169.8L201.0,171.3L201.5,172.6L202.0,173.5L202.4,173.9L202.5,174.0L203.0,174.1L203.5,173.7L204.0,173.0L204.5,172.3L204.8,172.0L205.0,171.8L205.5,171.6L206.0,171.5L206.5,171.6L207.0,171.8L207.5,172.1L208.0,172.5L208.5,172.8L209.0,173.3L209.5,173.8L209.6,173.9L210.0,174.2L210.1,174.3L210.5,174.7L211.0,175.2L211.5,175.7L212.0,176.1L212.5,176.5L213.0,176.9L213.5,177.2L214.0,177.5L214.4,177.7L214.5,177.8L215.0,177.9L215.5,178.0L216.0,178.1L216.5,178.1L217.0,178.0L217.3,178.0L217.5,178.0L218.0,177.9L218.5,177.8L219.0,177.8L219.5,177.7L220.0,177.7L220.5,177.7L221.0,177.7L221.1,177.7L221.5,177.8L222.0,177.8L222.5,177.8L223.0,177.8L223.5,177.8L224.0,177.7L224.5,177.4L225.0,177.1L225.5,176.7L226.0,176.2L226.5,175.7L227.0,175.0L227.5,174.3L228.0,173.6L228.1,173.4L228.3,173.1L228.5,172.7L229.0,171.9L229.5,170.9L230.0,169.9L230.5,168.8L231.0,167.6L231.5,166.3L231.7,165.8L232.0,165.0L232.5,163.4L233.0,161.8L233.5,160.0L234.0,158.0L234.5,155.7L235.0,153.2L235.3,151.5L235.5,150.2L236.0,146.8L236.2,145.3L236.5,142.7L237.0,137.7L237.1,136.5L237.5,131.2L237.6,130.5L238.0,122.5L238.2,117.5L238.4,111.9L238.5,110.6L238.6,109.1L238.7,106.5L238.8,104.9L238.8,104.1L238.9,103.9L239.0,104.1L239.0,104.4L239.0,104.9L239.1,106.0L239.1,106.5L239.2,109.1L239.3,111.9L239.5,115.7L239.6,117.5L239.8,122.5L240.0,126.2L240.2,130.3L240.5,133.7L240.7,136.1L241.0,139.2L241.5,143.2L241.6,143.8L242.0,146.1L242.5,148.1L242.7,148.7L243.0,149.4L243.5,150.1L244.0,150.3L244.3,150.2L244.5,150.0L245.0,149.5L245.5,148.5L246.0,147.3L246.1,147.0L246.3,146.3L246.5,145.6L247.0,143.3L247.2,142.2L247.5,140.3L248.0,136.1L248.1,135.1L248.5,130.4L248.6,129.7L249.0,122.2L249.2,117.4L249.4,111.8L249.5,110.6L249.6,109.0L249.7,106.4L249.7,105.9L249.8,104.9L249.8,104.1L249.9,103.9L250.0,104.1L250.0,104.4L250.0,104.9L250.1,106.4L250.2,109.0L250.3,111.8L250.5,115.6L250.6,117.4L250.8,122.3L251.0,126.0L251.2,129.9L251.5,133.3L251.7,135.6L252.0,138.6L252.2,140.4L252.5,142.8L252.6,143.5L253.0,146.0L253.3,147.7L253.5,148.7L254.0,151.0L254.5,152.8L255.0,154.5L255.3,155.3L255.5,155.8L256.0,157.0L256.5,158.0L257.0,158.8L257.1,159.0L257.5,159.6L258.0,160.3L258.5,160.9L259.0,161.4L259.4,161.8L259.5,161.9L260.0,162.3L260.5,162.5L260.7,162.6L261.0,162.7L261.5,162.9L262.0,162.9L262.5,162.9L263.0,162.7L263.5,162.5L264.0,162.3L264.3,162.1L264.5,161.9L265.0,161.6L265.5,161.2L266.0,160.7L266.5,160.3L266.6,160.2L267.0,159.8L267.5,159.3L267.7,159.1L268.0,158.8L268.5,158.3L269.0,157.8L269.5,157.2L270.0,156.6L270.2,156.3L270.5,155.9L271.0,155.1L271.2,154.8L271.5,154.3L272.0,153.4L272.5,152.6L273.0,151.8L273.5,151.0L273.8,150.6L274.0,150.2L274.5,149.5L275.0,148.8L275.5,148.1L275.6,148.0L276.0,147.1L276.5,145.1L277.0,142.6L277.4,140.2L277.5,139.6L278.0,136.2L278.3,133.8L278.4,133.0L278.5,132.1L278.7,130.3L279.0,127.2L279.2,124.9L279.5,121.0L279.6,118.7L280.0,112.7L280.1,110.7L280.3,105.7L280.5,101.3L280.6,100.1L280.7,97.2L280.8,94.6L280.9,93.0L280.9,92.3L281.0,92.0L281.1,92.3L281.1,93.0L281.2,94.6L281.3,97.2L281.4,100.0L281.5,101.3L281.7,105.7L281.9,110.7L282.0,112.6L282.4,118.6L282.5,120.8L282.8,124.6L283.0,126.7L283.5,131.1L283.7,132.5L284.0,134.1L284.5,135.9L284.6,136.1L285.0,136.4L285.5,135.6L285.6,135.3L286.0,133.8L286.4,131.9L286.5,131.3L287.0,128.6L287.5,125.7L288.0,123.0L288.2,122.1L288.5,120.7L289.0,118.7L289.2,118.0L289.5,117.1L290.0,116.0L290.5,115.5L291.0,115.5L291.5,115.9L291.8,116.3L292.0,116.4L292.5,116.9L292.8,117.1L293.0,117.1L293.5,117.1L294.0,117.0L294.5,116.7L294.6,116.7L295.0,116.4L295.4,116.2L295.5,116.2L296.0,115.8L296.4,115.5L296.5,115.5L297.0,115.0L297.3,114.7L297.5,114.4L298.0,113.5L298.2,112.9L298.5,111.9L298.6,111.1L299.0,108.7L299.1,107.8L299.3,105.0L299.5,102.2L299.6,101.2L299.7,99.1L299.8,97.1L299.9,95.8L299.9,95.2L300.0,95.0L300.1,95.2L300.1,95.8L300.2,97.1L300.3,99.1L300.4,101.2L300.5,102.1L300.7,104.9L300.9,107.6L301.0,108.5L301.4,110.8L301.5,111.5L301.8,112.4L302.0,112.9L302.5,113.6L302.6,113.8L302.7,113.9L303.0,114.1L303.5,114.4L303.6,114.4L304.0,114.6L304.5,114.8L305.0,115.0L305.4,115.2L305.5,115.3L306.0,115.7L306.5,116.2L307.0,117.0L307.2,117.3L307.5,117.9L308.0,119.0L308.5,120.1L309.0,120.9L309.5,121.3L309.8,121.5L310.0,121.5L310.5,121.6L310.8,121.6L311.0,121.5L311.5,121.4L312.0,121.2L312.5,121.0L313.0,120.7L313.5,120.3L314.0,119.9L314.4,119.6L314.5,119.6L315.0,119.2L315.5,118.7L316.0,118.3L316.5,117.9L317.0,117.4L317.5,116.8L318.0,116.3L318.5,115.7L319.0,115.1L319.5,114.5L320.0,113.9L320.5,113.2L321.0,112.6L321.5,112.0" stroke="#77AC30" stroke-width="2.4" fill="none" stroke-linejoin="round" stroke-linecap="round"/>
<path d="M53.0,50.0L53.5,53.9L53.8,57.6L54.0,63.0L54.2,69.4L54.5,80.0L54.7,86.5L55.0,98.2L55.5,98.7L55.5,98.3L55.8,95.7L56.0,93.5L56.0,93.2L56.4,86.2L56.5,84.3L56.6,80.5L56.9,72.7L57.0,67.7L57.0,66.2L57.1,62.1L57.1,59.2L57.2,56.6L57.2,55.0L57.3,54.3L57.3,54.0L57.3,54.3L57.4,55.0L57.4,56.2L57.4,56.6L57.5,59.2L57.5,61.0L57.5,62.1L57.6,67.7L57.7,72.7L58.0,80.8L58.0,82.0L58.2,87.0L58.2,87.4L58.5,93.8L58.6,96.0L59.0,101.6L59.1,102.4L59.4,106.2L59.5,107.2L59.8,109.5L59.9,110.0L60.0,110.1L60.2,109.0L60.3,106.8L60.4,102.3L60.5,98.7L60.5,94.2L60.5,91.7L60.5,89.4L60.6,88.0L60.6,87.3L60.6,87.1L60.6,87.3L60.6,88.0L60.6,89.5L60.7,91.8L60.7,94.4L60.8,99.2L60.8,103.1L60.8,104.4L60.9,108.7L61.0,112.3L61.2,116.6L61.4,119.2L61.5,120.2L61.8,122.6L62.0,123.9L62.2,125.1L62.5,126.7L62.6,127.1L63.0,129.0L63.5,131.1L63.8,132.2L64.0,133.0L64.3,134.2L64.5,134.7L65.0,136.3L65.0,136.3L65.4,137.5L65.5,137.8L66.0,139.2L66.1,139.5L66.5,140.5L67.0,141.7L67.3,142.3L67.5,142.8L67.8,143.5L67.9,143.6L68.0,143.9L68.4,144.6L68.5,144.8L68.7,145.0L68.9,145.0L69.0,144.9L69.1,144.6L69.2,143.1L69.3,141.2L69.4,137.6L69.4,134.7L69.4,130.7L69.4,128.5L69.5,126.4L69.5,125.1L69.5,124.4L69.5,124.2L69.5,124.4L69.5,125.1L69.5,126.4L69.6,128.5L69.6,130.8L69.6,134.8L69.6,137.9L69.7,141.7L69.8,143.8L69.9,145.9L70.0,146.6L70.1,146.9L70.3,148.0L70.5,148.4L70.6,148.7L71.0,149.5L71.2,149.8L71.4,150.2L71.5,150.4L71.7,150.8L72.0,151.2L72.5,152.0L72.9,152.5L73.0,152.7L73.5,153.4L74.0,154.1L74.0,154.1L74.5,154.7L75.0,155.4L75.5,156.0L76.0,156.5L76.5,157.1L77.0,157.6L77.5,158.1L78.0,158.6L78.5,159.1L79.0,159.5L79.5,159.9L80.0,160.2L80.5,160.5L81.0,160.8L81.5,160.9L81.7,160.9L82.0,160.9L82.5,160.7L82.6,160.6L83.0,160.1L83.5,158.9L83.6,158.6L84.0,156.4L84.1,156.0L84.5,151.1L84.5,150.4L84.8,145.4L85.0,138.3L85.0,137.4L85.1,131.3L85.3,122.7L85.3,116.6L85.4,108.6L85.4,103.7L85.4,98.0L85.5,95.2L85.5,92.6L85.5,91.0L85.5,90.2L85.5,90.0L85.5,90.2L85.5,91.0L85.5,92.6L85.5,95.2L85.6,98.0L85.6,103.7L85.6,108.6L85.7,116.6L85.7,122.7L85.9,131.4L86.0,137.5L86.0,138.3L86.2,145.6L86.5,150.7L86.5,151.4L86.9,156.8L87.0,157.3L87.4,160.1L87.5,160.5L88.0,162.4L88.4,163.4L88.5,163.6L89.0,164.5L89.3,165.0L89.5,165.2L90.0,165.7L90.5,166.1L91.0,166.5L91.5,166.8L92.0,167.0L92.5,167.2L93.0,167.4L93.5,167.5L94.0,167.6L94.5,167.7L95.0,167.8L95.5,167.8L96.0,167.8L96.5,167.8L97.0,167.7L97.5,167.7L98.0,167.6L98.5,167.4L99.0,167.3L99.5,167.1L100.0,166.9L100.5,166.6L101.0,166.3L101.5,166.0L102.0,165.7L102.5,165.3L102.8,165.0L103.0,164.8L103.5,164.4L104.0,163.8L104.5,163.3L105.0,162.6L105.5,162.0L106.0,161.2L106.5,160.5L107.0,159.6L107.5,158.7L107.6,158.5L108.0,157.7L108.5,156.6L109.0,155.4L109.5,154.2L110.0,152.8L110.5,151.3L111.0,149.6L111.5,147.8L112.0,145.8L112.4,144.0L112.5,143.5L113.0,141.0L113.5,138.2L113.6,137.6L114.0,134.9L114.5,131.0L114.8,128.4L115.0,126.4L115.4,121.9L115.5,120.6L116.0,112.8L116.3,106.7L116.5,101.6L116.6,98.6L116.8,93.6L116.9,88.0L117.0,85.1L117.0,84.2L117.0,82.5L117.1,80.9L117.2,80.2L117.2,79.9L117.2,80.2L117.3,80.9L117.3,82.5L117.4,85.1L117.5,88.0L117.7,93.6L117.8,98.6L118.0,104.3L118.1,106.7L118.4,112.8L118.5,114.6L119.0,121.9L119.5,127.4L119.6,128.4L120.0,131.9L120.5,135.6L120.8,137.6L121.0,138.8L121.5,141.6L122.0,144.1L122.5,146.3L123.0,148.4L123.5,150.2L124.0,151.9L124.4,153.1L124.5,153.4L125.0,154.9L125.5,156.2L126.0,157.5L126.5,158.7L126.8,159.4L127.0,159.8L127.5,160.8L128.0,161.8L128.5,162.8L129.0,163.7L129.5,164.5L130.0,165.3L130.5,166.1L131.0,166.8L131.5,167.5L131.6,167.6L132.0,168.1L132.5,168.7L133.0,169.3L133.5,169.8L134.0,170.3L134.5,170.7L135.0,171.5L135.5,171.8L136.0,172.1L136.4,172.3L136.5,172.3L137.0,172.5L137.5,172.6L138.0,172.6L138.5,172.1L139.0,171.5L139.5,171.7L140.0,171.9L140.5,172.0L141.0,172.0L141.5,172.6L142.0,173.1L142.5,174.4L143.0,175.7L143.5,176.0L144.0,176.3L144.5,177.1L145.0,177.9L145.5,178.3L146.0,178.7L146.5,179.2L147.0,179.6L147.5,180.4L148.0,181.2L148.5,181.1L149.0,181.0L149.5,181.3L150.0,181.5L150.5,182.0L151.0,182.5L151.5,182.7L152.0,182.9L152.5,183.2L153.0,183.5L153.5,183.5L154.0,183.4L154.5,183.0L155.0,182.6L155.5,183.5L156.0,184.4L156.5,184.5L157.0,184.6L157.5,184.8L158.0,185.1L158.5,184.7L159.0,184.2L159.5,185.4L160.0,186.5L160.5,185.5L161.0,184.4L161.5,185.1L162.0,185.8L162.5,185.7L163.0,185.5L163.5,185.5L164.0,185.4L164.5,185.8L165.0,186.3L165.5,186.0L166.0,185.7L166.5,185.1L167.0,184.5L167.5,184.9L168.0,185.3L168.5,185.8L169.0,186.3L169.5,186.8L170.0,187.3L170.5,186.2L171.0,185.1L171.5,185.5L172.0,185.9L172.5,186.3L173.0,186.7L173.5,186.4L174.0,186.1L174.5,185.7L175.0,185.3L175.5,184.9L176.0,184.5L176.5,184.3L177.0,184.1L177.5,184.2L178.0,184.4L178.5,184.4L179.0,184.3L179.5,183.6L180.0,182.8L180.5,182.8L181.0,182.7L181.5,183.1L182.0,183.4L182.5,182.9L182.9,182.5L183.0,182.4L183.5,182.0L184.0,181.6L184.5,181.3L185.0,181.0L185.5,180.5L186.0,180.0L186.5,180.1L187.0,180.1L187.5,179.8L187.7,179.7L188.0,179.5L188.5,179.1L189.0,178.6L189.5,177.5L190.0,176.4L190.5,175.7L191.0,174.9L191.5,174.3L192.0,173.6L192.5,172.7L193.0,171.8L193.5,170.6L194.0,169.3L194.5,168.0L194.9,166.8L195.0,166.5L195.5,164.2L196.0,162.6L196.5,160.7L197.0,158.7L197.3,157.4L197.5,156.4L198.0,153.9L198.5,151.0L199.0,147.6L199.5,143.6L199.7,141.8L200.0,138.8L200.3,135.3L200.5,132.7L200.8,128.1L200.9,126.3L201.0,124.4L201.2,120.2L201.5,112.1L201.7,107.1L201.8,101.5L201.9,98.6L201.9,96.0L202.0,94.6L202.0,94.4L202.1,93.7L202.1,93.4L202.1,93.7L202.2,94.4L202.2,96.0L202.3,98.6L202.4,101.5L202.5,105.3L202.6,107.1L202.7,112.1L203.0,120.2L203.3,126.3L203.5,129.7L203.9,135.3L204.0,136.5L204.5,141.8L205.0,145.5L205.5,149.5L205.7,150.9L206.0,152.9L206.5,155.5L206.9,157.4L207.0,157.9L207.5,160.0L208.0,161.9L208.5,164.1L209.0,166.0L209.3,166.5L209.5,166.8L210.0,167.5L210.5,168.4L211.0,169.1L211.5,170.4L211.7,170.9L212.0,171.6L212.5,172.2L213.0,172.8L213.5,173.7L214.0,174.6L214.5,175.0L215.0,175.4L215.2,175.6L215.5,175.8L216.0,176.1L216.5,176.1L216.7,176.1L217.0,176.0L217.5,176.3L218.0,176.5L218.5,176.1L218.8,175.8L219.0,175.6L219.5,175.6L220.0,175.5L220.5,174.9L221.0,174.5L221.3,174.2L221.5,174.1L222.0,173.9L222.4,174.0L222.5,174.0L223.0,173.6L223.5,172.4L223.9,171.2L224.0,170.9L224.2,170.6L224.5,170.1L225.0,169.0L225.5,166.3L226.0,164.0L226.5,161.1L226.9,158.4L227.0,157.7L227.5,153.3L227.8,150.2L228.0,147.7L228.2,144.3L228.5,140.2L228.7,136.4L228.9,131.5L229.0,129.7L229.2,125.9L229.3,123.0L229.4,120.4L229.5,118.9L229.5,118.4L229.5,118.1L229.6,117.9L229.7,118.1L229.7,118.9L229.8,120.4L229.9,123.0L230.0,124.6L230.1,125.9L230.3,131.5L230.5,136.4L230.9,144.2L231.0,145.0L231.1,146.4L231.4,150.1L231.5,151.2L232.0,155.9L232.3,158.2L232.5,159.6L233.0,162.5L233.2,163.6L233.5,164.9L234.0,166.8L234.5,168.3L234.7,168.8L235.0,169.5L235.5,170.4L236.0,171.1L236.5,171.5L236.8,171.7L237.0,171.8L237.5,171.8L238.0,171.7L238.3,171.6L238.5,171.4L239.0,170.9L239.4,170.4L239.5,170.2L240.0,169.3L240.1,169.1L240.4,168.4L240.5,168.1L241.0,166.7L241.5,164.9L241.9,163.1L242.0,162.7L242.5,159.9L242.8,157.9L243.0,156.5L243.5,152.1L243.7,150.0L244.0,146.3L244.2,144.2L244.5,138.4L244.6,136.4L244.8,131.5L245.0,127.2L245.1,125.9L245.2,123.1L245.3,120.5L245.4,118.9L245.4,118.2L245.5,117.9L245.6,118.2L245.6,118.9L245.7,120.5L245.8,122.2L245.8,123.1L245.9,125.9L246.0,127.2L246.2,131.5L246.4,136.4L246.5,138.3L246.8,144.1L247.0,146.2L247.3,149.8L247.5,151.9L248.0,156.1L248.2,157.6L248.5,159.4L249.0,161.9L249.1,162.3L249.5,163.8L250.0,165.3L250.5,166.4L250.9,167.0L251.0,167.2L251.2,167.4L251.5,167.7L252.0,168.0L252.2,168.1L252.5,168.2L252.7,168.2L253.0,168.2L253.5,168.0L254.0,167.7L254.5,167.3L255.0,166.7L255.4,166.2L255.5,166.1L256.0,165.3L256.3,164.8L256.5,164.4L257.0,163.4L257.5,162.3L258.0,161.1L258.4,160.0L258.5,159.7L258.6,159.4L259.0,158.1L259.5,156.4L259.9,154.8L260.0,154.4L260.2,153.6L260.5,152.2L260.6,151.8L261.0,149.7L261.5,146.9L261.8,144.9L262.0,143.5L262.5,139.5L262.6,138.6L263.0,134.6L263.4,129.8L263.5,128.4L263.8,123.7L264.0,120.0L264.2,115.7L264.4,110.7L264.5,107.9L264.6,105.0L264.7,102.2L264.8,99.6L264.9,98.0L264.9,97.2L265.0,97.0L265.1,97.2L265.1,98.0L265.2,99.6L265.3,102.2L265.4,105.0L265.5,107.9L265.6,110.7L265.8,115.6L266.0,119.9L266.2,123.6L266.4,126.8L266.5,128.2L266.6,129.6L267.0,134.3L267.1,135.3L267.4,138.0L267.5,138.8L268.0,142.3L268.2,143.4L268.5,144.8L269.0,146.5L269.5,147.6L269.8,147.9L270.0,148.1L270.5,148.0L271.0,147.7L271.4,147.2L271.5,147.1L271.8,146.7L272.0,146.4L272.5,145.8L272.8,145.4L273.0,145.2L273.5,144.8L274.0,144.6L274.3,144.6L274.5,144.6L274.6,144.6L275.0,144.6L275.5,144.6L276.0,144.5L276.5,144.5L277.0,145.2L277.4,146.1L277.5,146.3L277.8,146.4L278.0,146.3L278.5,145.4L278.8,144.6L279.0,144.0L279.2,143.3L279.5,142.1L280.0,139.7L280.2,138.5L280.5,136.6L280.9,133.6L281.0,132.7L281.5,127.4L281.6,126.1L281.9,120.6L282.0,119.7L282.3,113.1L282.4,110.5L282.5,108.4L282.5,107.6L282.6,102.9L282.7,100.1L282.8,97.5L282.9,96.0L282.9,95.2L283.0,95.0L283.1,95.2L283.1,95.9L283.2,97.5L283.3,100.0L283.4,102.8L283.5,107.5L283.5,108.2L283.7,112.9L284.0,119.1L284.1,120.0L284.2,122.2L284.4,124.7L284.5,125.8L285.0,129.5L285.1,130.0L285.5,131.5L285.6,131.7L285.8,132.1L286.0,132.4L286.5,132.6L287.0,132.4L287.2,132.3L287.5,132.0L288.0,131.4L288.5,130.5L288.6,130.3L288.8,129.8L289.0,129.3L289.5,127.4L289.6,127.0L290.0,124.7L290.4,121.4L290.5,120.4L290.6,119.3L290.8,116.7L291.0,113.6L291.2,109.8L291.4,105.2L291.5,102.6L291.6,99.8L291.7,97.0L291.8,94.5L291.9,93.0L291.9,92.2L292.0,92.0L292.1,92.2L292.1,93.0L292.2,94.5L292.3,97.1L292.4,99.8L292.5,102.6L292.6,105.2L292.8,109.9L293.0,113.8L293.2,117.0L293.5,121.0L293.6,122.1L294.0,125.7L294.2,127.2L294.4,128.5L294.5,129.1L295.0,131.5L295.2,132.2L295.5,133.2L296.0,134.5L296.5,135.3L296.8,135.6L297.0,135.8L297.5,135.8L298.0,135.5L298.4,135.1L298.5,134.9L299.0,134.2L299.5,133.5L299.8,133.2L300.0,133.0L300.5,132.7L301.0,132.4L301.5,132.1L301.6,132.1L302.0,131.9L302.5,131.6L303.0,131.4L303.5,131.1L304.0,130.8L304.5,130.5L304.8,130.2L305.0,130.0L305.4,129.6L305.5,129.5L306.0,128.9L306.5,128.3L307.0,127.6L307.5,126.8L308.0,125.9L308.5,125.0L309.0,124.0L309.5,122.9L310.0,121.8L310.5,120.6L311.0,119.3L311.2,118.8L311.5,118.0L312.0,116.7L312.5,115.4L313.0,114.1L313.5,112.8L314.0,111.5L314.5,110.2L315.0,108.9L315.5,107.5L316.0,106.2L316.5,104.9L317.0,103.5L317.5,102.2L317.6,101.9L318.0,100.9L318.5,99.5L319.0,98.2L319.5,96.8L320.0,95.5L320.5,94.0L321.0,92.6L321.5,91.0" stroke="#4DBEEE" stroke-width="2.4" fill="none" stroke-linejoin="round" stroke-linecap="round"/>
</g>
<g clip-path="url(#cb)">
<path d="M404.0,48.5L404.2,48.9L404.5,49.6L405.0,50.7L405.4,51.6L405.5,51.9L406.0,53.0L406.5,54.2L406.6,54.4L407.0,55.4L407.2,55.9L407.5,56.5L407.8,57.1L408.0,57.5L408.1,57.6L408.4,57.9L408.5,57.9L408.6,57.8L408.7,57.3L408.8,56.7L408.9,55.5L408.9,54.7L408.9,53.9L409.0,53.3L409.0,53.0L409.0,52.9L409.0,53.1L409.0,53.4L409.1,54.0L409.1,54.9L409.1,55.8L409.2,57.2L409.3,58.1L409.4,59.0L409.5,59.2L409.6,59.6L409.9,60.3L410.0,60.5L410.2,60.9L410.5,61.5L410.8,62.1L411.0,62.4L411.4,63.0L411.5,63.2L412.0,63.5L412.5,62.9L412.6,62.6L412.9,61.0L413.0,60.1L413.2,57.3L413.4,53.8L413.5,48.1L413.6,44.0L413.6,39.1L413.7,36.4L413.7,34.0L413.8,32.5L413.8,31.8L413.8,31.6L413.8,31.8L413.8,32.6L413.9,34.1L413.9,36.4L413.9,39.1L414.0,42.5L414.0,44.1L414.1,48.3L414.2,54.2L414.4,58.0L414.5,59.8L414.7,62.4L415.0,64.8L415.5,67.1L415.6,67.4L416.0,68.6L416.2,69.2L416.5,69.9L417.0,71.0L417.4,71.8L417.5,72.0L418.0,72.9L418.5,73.7L418.6,73.9L419.0,74.5L419.5,75.3L420.0,76.1L420.5,76.8L421.0,77.5L421.5,78.1L422.0,78.8L422.5,79.4L423.0,80.0L423.4,80.4L423.5,80.5L424.0,81.0L424.5,81.5L425.0,82.1L425.5,82.6L426.0,83.3L426.5,83.9L427.0,84.6L427.5,85.3L428.0,86.0L428.5,86.8L429.0,87.5L429.5,88.2L430.0,88.9L430.5,89.6L431.0,90.4L431.5,91.2L432.0,92.0L432.5,92.9L433.0,93.8L433.5,94.8L434.0,95.8L434.5,96.8L435.0,97.7L435.5,98.6L436.0,99.5L436.5,100.3L437.0,101.1L437.5,101.9L438.0,102.6L438.5,103.3L439.0,103.9L439.5,104.5L440.0,105.0L440.5,105.4L441.0,105.8L441.5,106.2L442.0,106.5L442.5,106.7L443.0,106.9L443.5,107.1L444.0,107.2L444.5,107.3L445.0,107.3L445.5,107.3L446.0,107.2L446.5,107.2L447.0,107.0L447.5,106.9L448.0,106.8L448.5,106.7L449.0,106.5L449.5,106.3L450.0,106.2L450.5,106.0L451.0,105.8L451.5,105.6L452.0,105.4L452.5,105.2L453.0,105.0L453.5,104.8L454.0,104.6L454.5,104.4L455.0,104.2L455.5,104.0L456.0,103.7L456.5,103.5L457.0,103.3L457.5,103.2L458.0,103.0L458.5,102.8L459.0,102.7L459.5,102.5L460.0,102.4L460.5,102.3L461.0,102.1L461.5,102.0L462.0,101.9L462.5,101.8L463.0,101.7L463.5,101.6L464.0,101.5L464.5,101.4L465.0,101.3L465.5,101.3L466.0,101.2L466.5,101.1L467.0,101.1L467.5,101.0L468.0,101.0L468.5,100.9L469.0,100.9L469.5,100.9L470.0,100.8L470.5,100.8L471.0,100.8L471.5,100.8L472.0,100.8L472.5,100.8L473.0,100.7L473.5,100.8L474.0,100.8L474.5,100.8L475.0,100.9L475.5,100.9L476.0,101.0L476.5,101.1L477.0,101.2L477.5,101.3L478.0,101.4L478.5,101.5L479.0,101.7L479.5,101.8L480.0,101.9L480.5,102.1L481.0,102.2L481.5,102.4L482.0,102.5L482.5,102.7L483.0,102.8L483.5,103.0L484.0,103.1L484.5,103.3L485.0,103.4L485.5,103.6L486.0,103.7L486.5,103.9L487.0,104.1L487.5,104.2L488.0,104.4L488.5,104.6L489.0,104.7L489.5,104.9L490.0,105.1L490.5,105.3L491.0,105.5L491.5,105.6L492.0,105.8L492.5,106.0L493.0,106.2L493.5,106.4L494.0,106.6L494.5,106.8L495.0,107.0L495.5,107.2L496.0,107.4L496.5,107.6L497.0,107.8L497.5,107.9L498.0,108.1L498.5,108.3L499.0,108.5L499.5,108.7L500.0,108.9L500.5,109.1L501.0,109.3L501.5,109.5L502.0,109.7L502.5,109.9L503.0,110.1L503.5,110.3L504.0,110.5L504.5,110.7L505.0,110.9L505.5,111.1L506.0,111.3L506.5,111.5L507.0,111.7L507.5,111.9L508.0,112.1L508.5,112.3L509.0,112.5L509.5,112.6L510.0,112.8L510.5,113.0L511.0,113.1L511.5,113.3L512.0,113.4L512.5,113.5L513.0,113.7L513.5,113.8L514.0,113.9L514.5,114.0L515.0,114.1L515.5,114.2L516.0,114.3L516.5,114.5L517.0,114.6L517.5,114.6L518.0,114.7L518.5,114.8L519.0,114.9L519.5,115.0L520.0,115.1L520.5,115.2L521.0,115.3L521.5,115.4L522.0,115.5L522.5,115.5L523.0,115.6L523.5,115.7L524.0,115.8L524.5,115.9L525.0,116.0L525.5,116.0L526.0,116.1L526.5,116.2L527.0,116.3L527.5,116.4L528.0,116.5L528.5,116.6L529.0,116.7L529.5,116.7L530.0,116.8L530.5,116.9L531.0,117.0L531.5,117.1L532.0,117.2L532.5,117.3L533.0,117.4L533.5,117.4L534.0,117.5L534.5,117.6L535.0,117.7L535.5,117.8L536.0,117.8L536.5,117.9L537.0,118.0L537.5,118.1L538.0,118.1L538.5,118.2L539.0,118.3L539.5,118.3L540.0,118.4L540.5,118.4L541.0,118.5L541.5,118.5L542.0,118.6L542.5,118.6L543.0,118.7L543.5,118.7L544.0,118.8L544.5,118.8L545.0,118.8L545.5,118.9L546.0,118.9L546.5,118.9L547.0,119.0L547.5,119.0L548.0,119.0L548.5,119.0L549.0,119.1L549.5,119.1L550.0,119.1L550.5,119.1L551.0,119.1L551.5,119.1L552.0,119.1L552.5,119.2L553.0,119.2L553.5,119.2L554.0,119.2L554.5,119.2L555.0,119.2L555.5,119.2L556.0,119.2L556.5,119.2L557.0,119.2L557.5,119.2L558.0,119.2L558.5,119.2L559.0,119.2L559.5,119.2L560.0,119.2L560.5,119.2L561.0,119.2L561.5,119.2L562.0,119.2L562.5,119.1L563.0,119.1L563.5,119.1L564.0,119.1L564.5,119.1L565.0,119.1L565.5,119.1L566.0,119.0L566.5,119.0L567.0,119.0L567.5,119.0L568.0,119.0L568.5,118.9L569.0,118.9L569.5,118.9L570.0,118.9L570.5,118.9L571.0,118.8L571.5,118.8L572.0,118.8L572.5,118.8L573.0,118.7L573.5,118.7L574.0,118.7L574.5,118.7L575.0,118.6L575.5,118.6L576.0,118.6L576.5,118.6L577.0,118.6L577.5,118.5L578.0,118.5L578.5,118.5L579.0,118.5L579.5,118.4L580.0,118.4L580.5,118.4L581.0,118.4L581.5,118.3L582.0,118.3L582.5,118.3L583.0,118.3L583.5,118.2L584.0,118.2L584.5,118.2L585.0,118.1L585.5,118.1L586.0,118.1L586.5,118.1L587.0,118.0L587.5,118.0L588.0,118.0L588.5,117.9L589.0,117.9L589.5,117.9L590.0,117.9L590.5,117.8L591.0,117.8L591.5,117.8L592.0,117.7L592.5,117.7L593.0,117.6L593.5,117.6L594.0,117.6L594.5,117.5L595.0,117.5L595.5,117.4L596.0,117.4L596.5,117.3L597.0,117.3L597.5,117.2L598.0,117.2L598.5,117.1L599.0,117.1L599.5,117.0L600.0,117.0L600.5,116.9L601.0,116.8L601.5,116.8L602.0,116.7L602.5,116.6L603.0,116.5L603.5,116.5L604.0,116.4L604.5,116.3L605.0,116.2L605.5,116.1L606.0,116.0L606.5,116.0L607.0,115.9L607.5,115.8L608.0,115.7L608.5,115.6L609.0,115.5L609.5,115.4L610.0,115.3L610.5,115.3L611.0,115.2L611.5,115.1L612.0,115.0L612.5,114.9L613.0,114.8L613.5,114.8L614.0,114.7L614.5,114.6L615.0,114.5L615.5,114.4L616.0,114.3L616.5,114.2L617.0,114.1L617.5,114.0L618.0,113.9L618.5,113.8L619.0,113.7L619.5,113.6L620.0,113.5L620.5,113.4L621.0,113.3L621.5,113.2L622.0,113.0L622.5,112.9L623.0,112.8L623.5,112.7L624.0,112.5L624.5,112.4L625.0,112.3L625.5,112.2L626.0,112.0L626.5,111.9L627.0,111.8L627.5,111.7L628.0,111.5L628.5,111.4L629.0,111.3L629.5,111.1L630.0,111.0L630.5,110.9L631.0,110.7L631.5,110.6L632.0,110.5L632.5,110.3L633.0,110.2L633.5,110.1L634.0,110.0L634.5,109.8L635.0,109.7L635.5,109.6L636.0,109.4L636.5,109.3L637.0,109.1L637.5,109.0L638.0,108.9L638.5,108.7L639.0,108.6L639.5,108.4L640.0,108.3L640.5,108.1L641.0,108.0L641.5,107.8L642.0,107.7L642.5,107.5L643.0,107.4L643.5,107.2L644.0,107.1L644.5,106.9L645.0,106.7L645.5,106.6L646.0,106.4L646.5,106.2L647.0,106.1L647.5,105.9L648.0,105.7L648.5,105.6L649.0,105.4L649.5,105.2L650.0,105.1L650.5,104.9L651.0,104.7L651.5,104.6L652.0,104.4L652.5,104.3L653.0,104.1L653.5,104.0L654.0,103.8L654.5,103.7L655.0,103.5L655.5,103.4L656.0,103.2L656.5,103.1L657.0,102.9L657.5,102.8L658.0,102.6L658.5,102.5L659.0,102.4L659.5,102.2L660.0,102.1L660.5,102.0L661.0,101.8L661.5,101.7L662.0,101.5L662.5,101.4L663.0,101.3L663.5,101.1L664.0,101.0L664.5,100.9L665.0,100.7L665.5,100.6L666.0,100.5L666.5,100.3L667.0,100.2L667.5,100.1L668.0,99.9L668.5,99.8L669.0,99.7L669.5,99.5L670.0,99.4L670.5,99.3L671.0,99.1L671.5,99.0" stroke="#0072BD" stroke-width="2.4" fill="none" stroke-linejoin="round" stroke-linecap="round"/>
<path d="M404.0,85.5L404.5,85.6L405.0,85.7L405.5,86.9L406.0,88.0L406.5,89.0L407.0,89.9L407.5,90.2L408.0,90.4L408.5,91.4L409.0,92.5L409.5,93.3L410.0,94.0L410.5,94.0L411.0,93.9L411.5,95.9L412.0,97.9L412.5,98.4L413.0,99.0L413.5,99.2L414.0,99.3L414.5,100.3L415.0,101.2L415.5,102.2L416.0,103.3L416.5,103.6L417.0,104.0L417.5,104.6L418.0,105.3L418.5,105.4L419.0,105.4L419.5,106.9L420.0,108.4L420.5,108.7L421.0,109.1L421.5,109.7L422.0,110.2L422.5,109.9L423.0,109.6L423.5,111.5L424.0,113.4L424.5,113.1L425.0,112.9L425.5,113.1L426.0,113.3L426.5,114.8L427.0,116.4L427.5,115.9L428.0,115.5L428.5,115.3L429.0,115.2L429.5,116.2L430.0,117.2L430.5,116.9L431.0,116.7L431.5,118.8L432.0,120.9L432.5,120.9L433.0,120.8L433.5,121.3L434.0,121.7L434.5,123.1L435.0,124.5L435.5,123.8L436.0,123.2L436.5,124.7L437.0,126.3L437.5,125.7L438.0,125.1L438.5,126.3L439.0,127.4L439.5,127.6L440.0,127.8L440.5,129.3L441.0,130.8L441.5,131.2L442.0,131.5L442.5,130.8L443.0,130.0L443.5,130.7L444.0,131.3L444.5,130.9L445.0,130.5L445.5,130.7L446.0,130.8L446.5,130.8L447.0,130.8L447.5,130.9L448.0,130.9L448.5,130.9L449.0,130.9L449.5,130.9L450.0,130.9L450.5,130.9L451.0,130.8L451.5,130.8L452.0,130.8L452.5,130.7L453.0,130.7L453.5,130.6L454.0,130.6L454.5,130.5L455.0,130.4L455.5,130.4L456.0,130.3L456.5,130.3L457.0,130.2L457.5,130.2L458.0,130.1L458.5,130.1L459.0,130.0L459.5,130.0L460.0,129.9L460.5,129.9L461.0,129.9L461.5,129.9L462.0,129.9L462.5,129.8L463.0,129.8L463.5,129.8L464.0,129.8L464.5,129.7L465.0,129.7L465.5,129.7L466.0,129.7L466.5,129.7L467.0,129.6L467.5,129.6L468.0,129.6L468.5,129.6L469.0,129.6L469.5,129.6L470.0,129.1L470.5,129.2L471.0,129.2L471.5,129.4L472.0,129.6L472.5,129.4L473.0,129.3L473.5,129.9L474.0,130.5L474.5,130.2L475.0,129.9L475.5,130.0L476.0,130.2L476.5,130.6L477.0,130.9L477.5,131.1L478.0,131.2L478.5,131.0L479.0,130.7L479.5,131.0L480.0,131.2L480.5,131.4L481.0,131.7L481.5,131.6L482.0,131.6L482.5,131.4L483.0,131.2L483.5,131.9L484.0,132.5L484.5,132.7L485.0,132.9L485.5,133.0L486.0,133.0L486.5,132.9L487.0,132.8L487.5,133.1L488.0,133.4L488.5,133.4L489.0,133.5L489.5,133.7L490.0,133.9L490.5,134.4L491.0,134.8L491.5,135.0L492.0,135.2L492.5,135.1L493.0,135.1L493.5,135.2L494.0,135.3L494.5,135.4L495.0,135.6L495.5,135.6L496.0,135.6L496.5,135.7L497.0,135.8L497.5,135.8L498.0,135.8L498.5,136.0L499.0,136.3L499.5,136.9L500.0,137.4L500.5,137.3L501.0,137.1L501.5,137.0L502.0,136.8L502.5,136.9L503.0,137.0L503.5,137.0L504.0,137.1L504.5,137.4L505.0,137.8L505.5,137.9L506.0,138.0L506.5,137.7L507.0,137.5L507.5,138.0L508.0,138.5L508.5,138.4L509.0,138.3L509.5,138.8L510.0,139.3L510.5,139.1L511.0,139.0L511.5,139.4L512.0,139.8L512.5,139.4L513.0,139.1L513.5,139.2L514.0,139.4L514.5,139.6L515.0,139.8L515.5,140.0L516.0,140.3L516.5,140.3L517.0,140.3L517.5,140.0L518.0,139.7L518.5,140.1L519.0,140.4L519.5,140.5L520.0,140.5L520.5,140.5L521.0,140.5L521.5,140.5L522.0,140.5L522.5,141.1L523.0,141.6L523.5,141.3L524.0,140.9L524.5,140.9L525.0,140.8L525.5,141.2L526.0,141.5L526.5,141.5L527.0,141.4L527.5,141.5L528.0,141.5L528.5,141.7L529.0,141.9L529.5,141.9L530.0,141.9L530.5,141.9L531.0,141.9L531.5,142.1L532.0,142.3L532.5,142.2L533.0,142.1L533.5,142.0L534.0,141.8L534.5,141.9L535.0,142.0L535.5,142.0L536.0,142.1L536.5,142.2L537.0,142.4L537.5,142.2L538.0,142.0L538.5,141.9L539.0,141.8L539.5,142.2L540.0,142.6L540.5,142.4L541.0,142.1L541.5,142.1L542.0,142.0L542.5,142.5L543.0,143.0L543.5,142.8L544.0,142.6L544.5,142.9L545.0,143.2L545.5,143.0L546.0,142.9L546.5,142.8L547.0,142.7L547.5,142.8L548.0,142.8L548.5,143.0L549.0,143.2L549.5,143.3L550.0,143.4L550.5,143.4L551.0,143.3L551.5,143.5L552.0,143.6L552.5,143.4L553.0,143.2L553.5,143.6L554.0,143.9L554.5,143.6L555.0,143.3L555.5,143.6L556.0,143.9L556.5,144.1L557.0,144.3L557.5,144.4L558.0,144.5L558.5,144.6L559.0,144.7L559.5,144.0L560.0,143.3L560.5,143.9L561.0,143.9L561.5,143.9L562.0,143.8L562.5,143.8L563.0,143.7L563.5,143.7L564.0,143.6L564.5,143.6L565.0,143.5L565.5,143.5L566.0,143.4L566.5,143.4L567.0,143.3L567.5,143.2L568.0,143.2L568.5,143.1L569.0,143.1L569.5,143.0L570.0,142.9L570.5,142.9L571.0,142.8L571.5,142.7L572.0,142.7L572.5,142.6L573.0,142.5L573.5,142.4L574.0,142.4L574.5,142.3L575.0,142.2L575.5,142.2L576.0,142.1L576.5,142.0L577.0,141.9L577.5,141.9L578.0,141.8L578.5,141.7L579.0,141.7L579.5,141.6L580.0,141.5L580.5,141.4L581.0,141.4L581.5,141.3L582.0,141.2L582.5,141.1L583.0,141.1L583.5,141.0L584.0,140.9L584.5,140.8L585.0,140.8L585.5,140.7L586.0,140.6L586.5,140.5L587.0,140.5L587.5,140.4L588.0,140.3L588.5,140.2L589.0,140.1L589.5,140.1L590.0,140.0L590.5,139.9L591.0,139.8L591.5,139.7L592.0,139.6L592.5,139.6L593.0,139.5L593.5,139.4L594.0,139.3L594.5,139.2L595.0,139.1L595.5,139.0L596.0,138.9L596.5,138.9L597.0,138.8L597.5,138.7L598.0,138.6L598.5,138.5L599.0,138.4L599.5,138.3L600.0,138.2L600.5,138.1L601.0,138.0L601.5,137.9L602.0,137.8L602.5,137.7L603.0,137.5L603.5,137.4L604.0,137.3L604.5,137.2L605.0,137.0L605.5,136.9L606.0,136.8L606.5,136.6L607.0,136.5L607.5,136.3L608.0,136.2L608.5,136.0L609.0,135.9L609.5,135.7L610.0,135.6L610.5,135.4L611.0,135.3L611.5,135.1L612.0,135.0L612.5,134.9L613.0,134.8L613.5,134.7L614.0,134.6L614.5,134.5L615.0,134.4L615.5,134.4L616.0,134.3L616.5,134.2L617.0,134.1L617.5,134.0L618.0,133.8L618.5,133.7L619.0,133.5L619.5,133.2L620.0,133.0L620.5,132.7L621.0,132.4L621.5,132.1L622.0,131.8L622.5,131.5L623.0,131.1L623.5,130.8L624.0,130.4L624.5,130.1L625.0,129.7L625.5,129.3L626.0,128.9L626.5,128.6L627.0,128.2L627.5,127.8L628.0,127.4L628.5,127.1L629.0,126.7L629.5,126.3L630.0,126.0L630.5,125.6L631.0,125.3L631.5,125.0L632.0,124.7L632.5,124.3L633.0,124.0L633.5,123.7L634.0,123.4L634.5,123.1L635.0,122.8L635.5,122.6L636.0,122.3L636.5,122.0L637.0,121.7L637.5,121.4L638.0,121.1L638.5,120.8L639.0,120.5L639.5,120.2L640.0,119.9L640.5,119.6L641.0,119.3L641.5,119.0L642.0,118.8L642.5,118.5L643.0,118.2L643.5,117.9L644.0,117.5L644.5,117.2L645.0,116.8L645.5,116.4L646.0,116.0L646.5,115.5L647.0,115.0L647.5,114.5L648.0,114.0L648.5,113.4L649.0,112.8L649.5,112.1L650.0,111.5L650.5,110.9L651.0,110.2L651.5,109.6L652.0,109.0L652.5,108.4L653.0,107.8L653.5,107.2L654.0,106.6L654.5,106.0L655.0,105.4L655.5,104.7L656.0,104.1L656.5,103.5L657.0,102.9L657.5,102.3L658.0,101.6L658.5,101.0L659.0,100.3L659.5,99.7L660.0,99.0L660.5,98.3L661.0,97.6L661.5,97.0L662.0,96.3L662.5,95.6L663.0,94.9L663.5,94.1L664.0,93.4L664.5,92.6L665.0,91.7L665.5,90.9L666.0,90.0L666.5,89.1L667.0,88.1L667.5,87.0L668.0,85.9L668.5,84.8L669.0,83.7L669.5,82.6L670.0,81.4L670.5,80.3L671.0,79.1L671.5,78.0" stroke="#D95319" stroke-width="2.4" fill="none" stroke-linejoin="round" stroke-linecap="round"/>
<path d="M404.0,86.1L404.5,86.8L405.0,87.6L405.5,87.2L406.0,86.8L406.5,87.4L407.0,88.1L407.5,88.4L408.0,88.6L408.5,90.6L409.0,92.6L409.5,93.0L410.0,93.4L410.5,94.2L410.6,94.3L411.0,95.0L411.5,95.1L412.0,95.3L412.5,96.0L413.0,96.6L413.5,96.5L414.0,96.4L414.5,97.8L415.0,99.3L415.5,98.8L416.0,98.4L416.5,99.0L417.0,99.7L417.5,100.2L418.0,100.8L418.5,101.1L419.0,101.4L419.5,102.3L420.0,103.2L420.5,103.3L421.0,103.4L421.5,103.8L422.0,104.2L422.5,104.6L423.0,105.0L423.4,105.7L423.5,105.9L424.0,106.8L424.5,106.5L425.0,106.0L425.5,106.0L425.8,106.0L426.0,106.0L426.5,106.0L426.6,106.1L427.0,106.2L427.5,105.8L428.0,105.9L428.5,107.3L429.0,109.2L429.5,112.1L429.8,113.9L430.0,114.8L430.5,114.9L431.0,113.4L431.4,111.4L431.5,110.9L432.0,108.1L432.5,105.2L433.0,102.0L433.5,98.3L433.8,95.8L434.0,94.0L434.5,88.9L434.6,87.7L435.0,82.7L435.4,77.1L435.5,75.6L435.6,74.2L435.8,71.6L436.0,70.0L436.0,69.7L436.1,69.3L436.2,69.0L436.3,69.3L436.4,70.0L436.5,70.5L436.6,71.6L436.8,74.2L437.0,77.1L437.4,82.7L437.5,84.0L437.8,87.7L438.0,90.0L438.5,94.9L438.6,95.8L439.0,99.1L439.4,102.0L439.5,102.6L440.0,105.7L440.5,108.5L441.0,111.0L441.5,113.2L442.0,115.3L442.5,117.2L442.6,117.6L443.0,118.9L443.5,120.6L444.0,122.1L444.5,123.5L445.0,124.9L445.5,126.2L445.8,126.9L446.0,127.4L446.5,128.5L447.0,129.6L447.5,130.7L448.0,131.7L448.5,132.6L449.0,133.5L449.5,134.4L450.0,135.3L450.5,136.1L451.0,136.9L451.5,137.6L452.0,138.3L452.5,139.0L453.0,139.7L453.5,140.3L454.0,140.9L454.5,141.4L455.0,141.9L455.4,142.2L455.5,142.3L456.0,142.6L456.5,142.8L457.0,142.9L457.5,142.9L458.0,142.7L458.5,142.4L459.0,142.0L459.5,141.5L460.0,140.9L460.5,140.4L461.0,139.8L461.5,139.4L461.8,139.1L462.0,138.9L462.5,138.5L463.0,138.1L463.5,137.8L464.0,137.5L464.5,137.2L465.0,137.0L465.5,136.8L466.0,136.6L466.5,136.5L467.0,136.4L467.5,136.3L468.0,136.2L468.5,136.2L469.0,136.1L469.5,136.1L470.0,136.1L470.5,136.1L471.0,136.1L471.5,136.2L472.0,136.2L472.5,136.2L473.0,136.2L473.5,136.2L474.0,136.1L474.5,136.1L474.6,136.1L475.0,136.0L475.5,135.9L476.0,135.8L476.5,135.7L477.0,135.7L477.5,135.7L478.0,135.7L478.5,135.7L479.0,135.7L479.5,135.8L480.0,135.9L480.5,136.0L481.0,136.1L481.5,136.2L482.0,136.3L482.5,136.5L483.0,136.6L483.5,136.8L484.0,136.9L484.5,137.1L485.0,137.2L485.5,137.3L486.0,137.5L486.5,137.6L487.0,137.8L487.4,137.9L487.5,138.0L488.0,138.2L488.5,138.4L489.0,138.6L489.5,138.8L490.0,139.0L490.5,139.2L491.0,139.4L491.5,139.6L492.0,139.8L492.5,140.0L493.0,140.2L493.5,140.4L494.0,140.6L494.5,140.8L495.0,141.0L495.5,141.2L496.0,141.4L496.5,141.5L497.0,141.7L497.5,141.9L498.0,142.0L498.5,142.2L499.0,142.4L499.5,142.5L500.0,142.7L500.5,142.9L501.0,143.0L501.5,143.2L502.0,143.4L502.5,143.5L502.6,143.6L503.0,143.7L503.5,143.8L504.0,144.0L504.5,144.2L505.0,144.3L505.5,144.5L506.0,144.6L506.5,144.8L507.0,144.9L507.5,145.1L508.0,145.2L508.5,145.3L509.0,145.5L509.5,145.6L510.0,145.7L510.5,145.8L511.0,146.0L511.5,146.1L512.0,146.2L512.5,146.3L513.0,146.4L513.5,146.5L514.0,146.6L514.5,146.7L515.0,146.8L515.5,146.9L516.0,147.0L516.5,147.1L517.0,147.2L517.5,147.2L518.0,147.3L518.5,147.4L519.0,147.5L519.5,147.6L520.0,147.6L520.5,147.7L521.0,147.8L521.5,147.8L522.0,147.9L522.5,147.9L523.0,148.0L523.5,148.0L524.0,148.1L524.5,148.1L525.0,148.2L525.5,148.2L526.0,148.2L526.5,148.3L527.0,148.3L527.5,148.3L528.0,148.3L528.2,148.3L528.5,148.3L529.0,148.3L529.5,148.3L530.0,148.3L530.5,148.3L531.0,148.3L531.5,148.2L532.0,148.2L532.5,148.2L533.0,148.1L533.5,148.1L534.0,148.0L534.5,148.0L535.0,147.9L535.5,147.9L536.0,147.9L536.5,147.8L537.0,147.8L537.5,147.7L538.0,147.7L538.5,147.7L539.0,147.7L539.5,147.7L540.0,147.7L540.5,147.7L541.0,147.8L541.5,147.9L542.0,147.9L542.5,148.0L543.0,148.2L543.5,148.3L544.0,148.4L544.5,148.5L545.0,148.7L545.5,148.8L546.0,148.9L546.5,149.0L547.0,149.0L547.5,149.1L548.0,149.1L548.5,149.0L549.0,149.0L549.5,148.9L550.0,148.8L550.5,148.7L551.0,148.5L551.5,148.4L552.0,148.2L552.5,148.0L553.0,147.8L553.5,147.5L553.8,147.4L554.0,147.3L554.5,147.0L555.0,146.8L555.5,146.5L556.0,146.2L556.5,145.9L557.0,145.7L557.5,145.4L558.0,145.1L558.5,144.8L559.0,144.5L559.5,144.2L560.0,143.9L560.2,143.8L560.5,143.6L561.0,143.3L561.5,143.0L562.0,142.7L562.5,142.3L563.0,142.0L563.5,141.6L564.0,141.2L564.5,140.8L565.0,140.4L565.5,140.0L566.0,139.6L566.5,139.1L566.6,139.0L567.0,138.6L567.5,138.1L568.0,137.6L568.5,137.0L569.0,136.4L569.5,135.8L569.8,135.4L570.0,135.1L570.5,134.3L571.0,133.6L571.5,132.8L572.0,131.9L572.5,130.9L573.0,129.9L573.5,128.8L574.0,127.6L574.5,126.3L574.6,126.1L575.0,125.0L575.5,123.6L576.0,122.1L576.2,121.4L576.5,120.5L577.0,119.0L577.5,117.5L577.8,116.7L578.0,116.2L578.4,115.2L578.5,115.1L578.9,114.5L579.0,114.5L579.4,114.3L579.5,114.3L579.9,114.5L580.0,114.6L580.4,115.1L580.5,115.4L581.0,116.5L581.5,117.8L581.8,118.7L582.0,119.3L582.5,120.7L582.6,121.0L583.0,122.1L583.5,123.5L584.0,124.7L584.2,125.1L584.5,125.8L585.0,126.8L585.5,127.7L585.8,128.2L586.0,128.5L586.5,129.2L587.0,129.8L587.5,130.4L588.0,130.9L588.5,131.3L589.0,131.6L589.5,131.9L590.0,132.2L590.5,132.4L591.0,132.6L591.5,132.7L592.0,132.8L592.2,132.9L592.5,132.9L593.0,133.0L593.5,133.0L594.0,133.1L594.5,133.1L595.0,133.1L595.5,133.1L596.0,133.1L596.5,133.0L597.0,133.0L597.5,133.0L598.0,132.9L598.5,132.9L598.6,132.9L599.0,132.9L599.5,132.9L600.0,132.9L600.5,132.9L601.0,133.2L601.5,134.5L602.0,134.6L602.5,134.6L603.0,134.6L603.5,134.6L604.0,134.6L604.5,134.5L605.0,134.5L605.5,134.4L606.0,134.3L606.5,134.3L607.0,134.2L607.5,134.1L608.0,134.0L608.5,134.0L609.0,133.9L609.5,133.8L610.0,133.7L610.5,133.6L611.0,133.5L611.5,133.4L612.0,133.3L612.5,133.2L613.0,133.1L613.5,133.0L614.0,132.9L614.5,132.7L615.0,132.6L615.5,132.4L616.0,132.3L616.5,132.2L617.0,132.1L617.5,132.0L617.8,131.9L618.0,131.9L618.5,131.8L619.0,131.7L619.5,131.6L620.0,131.5L620.5,131.4L621.0,131.4L621.5,131.3L622.0,131.3L622.5,131.2L623.0,131.2L623.5,131.1L624.0,131.1L624.5,131.1L625.0,131.0L625.5,131.0L626.0,131.0L626.5,130.9L627.0,130.9L627.5,130.9L628.0,130.8L628.5,130.8L629.0,130.8L629.5,130.7L630.0,130.7L630.5,130.6L630.6,130.6L631.0,130.6L631.5,130.5L632.0,130.5L632.5,130.4L633.0,130.3L633.5,130.2L634.0,130.1L634.5,130.1L635.0,130.0L635.5,129.8L636.0,129.7L636.5,129.5L637.0,129.4L637.5,129.2L638.0,129.0L638.5,128.8L639.0,128.6L639.5,128.3L640.0,128.1L640.5,127.8L641.0,127.5L641.5,127.2L642.0,126.9L642.5,126.6L643.0,126.3L643.5,125.9L644.0,125.5L644.5,125.2L645.0,124.8L645.5,124.4L646.0,124.0L646.5,123.6L647.0,123.1L647.5,122.5L648.0,121.8L648.5,121.0L649.0,120.2L649.5,119.4L650.0,118.7L650.5,118.0L651.0,117.4L651.5,116.8L652.0,116.1L652.5,115.5L653.0,114.9L653.5,114.3L654.0,113.7L654.5,113.0L655.0,112.4L655.5,111.8L656.0,111.1L656.2,110.9L656.5,110.5L657.0,109.8L657.5,109.2L658.0,108.5L658.5,107.8L659.0,107.1L659.5,106.4L660.0,105.7L660.5,104.9L661.0,104.2L661.5,103.4L662.0,102.5L662.5,101.7L663.0,100.8L663.5,99.9L664.0,99.0L664.5,98.0L665.0,97.0L665.5,96.0L666.0,95.0L666.5,93.9L667.0,92.8L667.5,91.7L668.0,90.5L668.5,89.4L669.0,88.1L669.5,86.9L670.0,85.7L670.5,84.5L671.0,83.2L671.5,82.0" stroke="#EDB120" stroke-width="2.4" fill="none" stroke-linejoin="round" stroke-linecap="round"/>
<path d="M404.0,80.7L404.5,81.2L404.9,81.6L405.0,81.7L405.5,82.0L406.0,82.5L406.5,83.5L407.0,84.6L407.5,85.4L408.0,86.2L408.5,87.1L409.0,88.1L409.5,88.7L410.0,89.3L410.5,90.4L411.0,91.5L411.5,92.4L412.0,93.2L412.5,93.8L413.0,94.4L413.5,95.4L414.0,96.5L414.5,97.5L415.0,98.5L415.5,98.8L416.0,99.0L416.5,99.8L417.0,100.5L417.5,101.5L418.0,102.5L418.5,102.7L419.0,102.9L419.5,103.9L420.0,104.8L420.5,104.7L421.0,104.6L421.5,105.4L422.0,106.2L422.5,107.1L423.0,108.1L423.5,108.5L424.0,108.8L424.5,109.2L424.9,109.5L425.0,109.5L425.5,110.3L426.0,111.1L426.5,111.5L427.0,111.9L427.5,112.6L428.0,113.2L428.3,113.4L428.5,113.6L429.0,114.1L429.5,115.1L430.0,116.2L430.5,117.2L431.0,118.2L431.5,118.8L432.0,119.3L432.5,119.7L433.0,120.0L433.5,121.5L433.9,122.7L434.0,123.0L434.5,124.6L435.0,126.3L435.5,125.7L436.0,125.1L436.5,126.5L437.0,128.0L437.5,128.8L438.0,129.4L438.5,129.8L439.0,130.2L439.5,130.8L440.0,131.5L440.1,131.0L440.5,131.4L441.0,131.9L441.5,132.5L442.0,132.8L442.3,132.5L442.5,132.3L443.0,131.2L443.5,129.8L444.0,128.2L444.5,126.5L445.0,124.6L445.1,124.2L445.5,122.5L446.0,120.3L446.5,117.7L447.0,114.8L447.5,111.5L447.9,108.5L448.0,107.7L448.5,103.0L448.6,102.0L448.9,98.5L449.0,97.2L449.3,92.9L449.5,89.6L449.6,86.8L450.0,78.7L450.2,73.7L450.4,68.1L450.4,65.2L450.5,63.3L450.5,62.6L450.6,61.0L450.6,60.3L450.7,60.0L450.8,60.3L450.8,61.0L450.9,62.6L451.0,65.2L451.0,66.4L451.1,68.1L451.2,73.7L451.4,78.7L451.5,81.3L451.8,86.8L452.0,91.3L452.1,92.9L452.5,98.5L452.8,101.9L453.0,104.0L453.5,108.4L453.7,110.0L454.0,112.1L454.5,115.3L454.9,117.5L455.0,118.0L455.5,120.4L456.0,122.5L456.3,123.7L456.5,124.4L457.0,125.9L457.5,127.1L457.7,127.4L458.0,127.6L458.5,127.3L459.0,126.8L459.1,126.7L459.5,126.3L460.0,126.1L460.5,126.1L461.0,126.3L461.5,126.3L461.9,126.1L462.0,126.0L462.1,125.9L462.5,125.4L463.0,124.4L463.5,123.3L464.0,122.3L464.5,121.6L465.0,121.0L465.5,120.4L466.0,120.0L466.5,119.6L467.0,119.1L467.5,118.7L468.0,118.3L468.5,117.8L468.7,117.6L469.0,117.2L469.5,116.6L470.0,116.0L470.5,115.2L470.9,114.5L471.0,114.3L471.5,113.2L472.0,112.0L472.5,110.6L473.0,109.0L473.1,108.6L473.5,107.2L473.6,106.7L474.0,105.5L474.2,104.8L474.5,103.9L474.6,103.6L475.0,103.0L475.0,103.0L475.3,102.8L475.5,102.9L475.6,103.0L476.0,103.6L476.0,103.6L476.4,104.7L476.5,105.0L476.9,106.6L477.0,106.7L477.5,108.4L478.0,110.0L478.5,111.4L478.6,111.6L479.0,112.6L479.5,113.6L479.7,113.9L480.0,114.4L480.5,115.1L481.0,115.7L481.5,116.2L481.9,116.6L482.0,116.7L482.5,117.1L483.0,117.5L483.5,117.9L484.0,118.3L484.1,118.4L484.5,118.7L485.0,119.0L485.5,119.7L486.0,120.4L486.5,121.4L487.0,122.5L487.5,123.6L488.0,124.7L488.5,126.3L489.0,127.6L489.5,128.4L490.0,129.1L490.5,129.2L491.0,129.3L491.5,130.3L492.0,131.2L492.5,131.3L492.9,131.3L493.0,131.3L493.5,131.8L494.0,132.4L494.5,132.5L495.0,132.7L495.5,133.1L496.0,133.5L496.5,133.6L496.9,133.6L497.0,133.6L497.5,133.9L498.0,134.1L498.5,133.9L499.0,133.7L499.5,134.5L500.0,135.3L500.5,135.2L501.0,135.1L501.5,135.2L501.7,135.2L502.0,135.3L502.5,135.8L503.0,136.3L503.5,136.3L504.0,136.4L504.5,136.5L505.0,136.6L505.5,136.8L506.0,136.9L506.5,137.0L507.0,137.1L507.5,137.0L508.0,136.9L508.5,136.9L509.0,137.0L509.5,137.6L510.0,138.1L510.5,138.3L511.0,138.4L511.3,138.4L511.5,138.4L512.0,138.4L512.3,138.4L512.5,138.4L513.0,138.5L513.5,138.7L514.0,139.0L514.5,139.1L515.0,139.2L515.5,139.2L516.0,139.1L516.5,139.3L517.0,139.5L517.5,139.6L518.0,139.7L518.5,139.5L519.0,139.3L519.5,139.7L520.0,140.0L520.5,139.7L521.0,139.4L521.5,139.3L522.0,139.1L522.5,139.7L523.0,140.4L523.5,140.2L524.0,140.0L524.5,140.5L525.0,141.0L525.5,140.4L525.7,140.1L526.0,139.7L526.5,140.1L527.0,140.5L527.5,140.2L528.0,139.8L528.1,139.8L528.5,139.8L529.0,139.7L529.3,139.3L529.5,139.1L530.0,138.5L530.5,138.6L531.0,138.3L531.5,137.9L532.0,137.6L532.5,137.3L532.9,137.0L533.0,137.0L533.5,136.6L534.0,136.3L534.5,135.8L534.7,135.7L535.0,135.4L535.5,134.8L536.0,134.2L536.5,133.5L537.0,132.6L537.4,131.8L537.5,131.6L538.0,130.3L538.3,129.4L538.5,128.8L538.8,128.0L539.0,127.3L539.2,126.6L539.5,125.8L539.6,125.7L539.8,125.2L540.0,125.1L540.1,125.0L540.4,125.1L540.5,125.3L540.6,125.5L541.0,126.3L541.1,126.5L541.5,127.4L541.5,127.5L541.9,128.5L542.0,128.7L542.5,129.7L542.8,130.1L543.0,130.4L543.5,130.9L543.7,131.0L544.0,131.2L544.5,131.5L545.0,131.7L545.5,131.8L545.7,131.8L546.0,131.9L546.5,132.0L547.0,132.1L547.3,132.1L547.5,132.2L548.0,132.3L548.5,132.5L549.0,132.6L549.5,132.8L550.0,133.1L550.5,133.3L550.9,133.5L551.0,133.6L551.5,133.8L552.0,134.1L552.5,134.5L553.0,134.8L553.5,135.1L554.0,135.4L554.5,135.8L555.0,136.1L555.5,136.4L556.0,136.7L556.5,137.0L557.0,137.3L557.5,137.6L558.0,137.8L558.5,138.0L559.0,138.2L559.5,138.3L560.0,138.4L560.5,138.6L561.0,138.7L561.5,138.8L561.7,138.8L562.0,138.9L562.5,138.9L563.0,139.0L563.5,139.1L564.0,139.1L564.5,139.2L565.0,139.2L565.5,139.3L566.0,139.3L566.5,139.3L567.0,139.3L567.5,139.4L568.0,139.4L568.5,139.4L568.9,139.4L569.0,139.4L569.5,139.4L569.9,139.4L570.0,139.4L570.5,139.4L571.0,139.4L571.5,139.4L572.0,139.4L572.5,139.4L573.0,139.3L573.5,139.3L574.0,139.3L574.5,139.3L575.0,139.2L575.5,139.2L576.0,139.1L576.5,139.1L577.0,139.0L577.5,139.0L578.0,138.9L578.5,138.8L579.0,138.8L579.5,138.7L580.0,138.6L580.5,138.6L580.9,138.5L581.0,138.5L581.5,138.4L582.0,138.3L582.5,138.3L583.0,138.2L583.3,138.2L583.5,138.1L584.0,138.1L584.3,138.0L584.5,138.0L585.0,137.9L585.5,137.8L586.0,137.8L586.5,137.7L587.0,137.6L587.5,137.5L588.0,137.4L588.5,137.4L589.0,137.3L589.5,137.2L590.0,137.1L590.5,137.0L591.0,136.9L591.5,136.8L592.0,136.6L592.5,136.5L593.0,136.4L593.5,136.2L594.0,136.1L594.5,135.9L595.0,135.8L595.5,135.6L596.0,135.4L596.5,135.2L597.0,135.0L597.5,134.8L597.7,134.7L598.0,134.5L598.5,134.3L598.7,134.2L599.0,134.1L599.5,133.8L600.0,133.6L600.5,133.3L601.0,133.0L601.5,132.7L602.0,132.4L602.5,132.1L603.0,131.9L603.5,131.6L604.0,131.2L604.5,130.9L605.0,130.6L605.5,130.3L605.9,130.0L606.0,129.9L606.5,129.5L607.0,129.1L607.5,128.7L608.0,128.3L608.5,127.9L609.0,127.5L609.5,127.1L610.0,126.7L610.5,126.3L611.0,126.0L611.5,125.7L612.0,125.5L612.5,125.4L613.0,125.3L613.1,125.3L613.5,125.1L614.0,124.8L614.5,124.4L615.0,124.0L615.5,123.5L616.0,122.9L616.1,122.8L616.5,122.3L616.7,122.0L617.0,121.6L617.5,120.9L618.0,120.1L618.5,119.2L619.0,118.3L619.5,117.3L620.0,116.3L620.3,115.6L620.5,115.1L621.0,113.9L621.5,112.5L622.0,111.0L622.1,110.7L622.5,109.3L623.0,107.5L623.5,105.5L623.9,103.7L624.0,103.2L624.5,100.7L624.8,99.1L625.0,98.0L625.5,95.0L625.7,93.8L626.0,91.9L626.1,91.0L626.5,89.0L626.6,88.5L627.0,87.0L627.0,86.8L627.2,86.3L627.5,86.0L627.8,86.2L628.0,86.8L628.0,87.0L628.4,88.5L628.5,89.0L628.9,91.0L629.0,91.9L629.3,93.7L629.5,94.9L630.0,97.8L630.2,98.9L630.5,100.4L631.0,102.8L631.1,103.3L631.5,104.9L632.0,106.8L632.5,108.4L632.9,109.5L633.0,109.8L633.5,111.0L634.0,112.1L634.5,113.0L634.7,113.4L635.0,113.8L635.5,114.5L636.0,115.1L636.5,115.6L637.0,116.0L637.5,116.3L638.0,116.6L638.3,116.7L638.5,116.8L639.0,117.0L639.5,117.0L640.0,117.0L640.5,116.8L641.0,116.5L641.5,116.2L641.9,116.0L642.0,116.0L642.5,115.8L643.0,115.5L643.5,115.2L644.0,114.9L644.5,114.5L645.0,114.1L645.5,113.8L646.0,113.4L646.5,113.0L647.0,112.6L647.5,112.2L648.0,111.7L648.5,111.3L649.0,110.9L649.1,110.8L649.5,110.4L650.0,110.0L650.5,109.6L651.0,109.1L651.5,108.7L652.0,108.3L652.5,107.8L653.0,107.4L653.5,106.9L654.0,106.5L654.5,106.0L655.0,105.6L655.3,105.3L655.5,105.1L656.0,104.7L656.3,104.4L656.5,104.2L657.0,103.8L657.5,103.3L658.0,102.9L658.5,102.4L659.0,101.9L659.5,101.5L660.0,101.0L660.5,100.5L661.0,100.1L661.5,99.6L662.0,99.2L662.5,98.7L663.0,98.2L663.5,97.8L664.0,97.3L664.5,96.8L665.0,96.2L665.5,95.6L666.0,95.0L666.5,94.3L667.0,93.6L667.5,92.8L668.0,92.0L668.5,91.2L669.0,90.3L669.5,89.5L670.0,88.6L670.5,87.7L670.7,87.4L671.0,86.9L671.5,86.0" stroke="#7E2F8E" stroke-width="2.4" fill="none" stroke-linejoin="round" stroke-linecap="round"/>
<path d="M404.0,51.0L404.5,53.7L405.0,57.3L405.5,61.5L406.0,65.7L406.5,69.4L407.0,72.2L407.5,74.3L408.0,75.7L408.5,76.9L409.0,78.1L409.5,79.2L410.0,80.3L410.5,81.3L410.9,82.1L411.0,82.3L411.5,83.3L412.0,84.3L412.5,85.3L413.0,86.2L413.5,87.2L414.0,88.1L414.5,89.0L415.0,89.9L415.5,90.8L416.0,91.6L416.5,92.5L417.0,93.3L417.5,94.2L418.0,95.0L418.5,95.9L419.0,96.7L419.5,97.7L420.0,98.8L420.5,99.7L421.0,100.6L421.5,101.3L422.0,101.9L422.5,102.5L423.0,103.0L423.5,103.5L424.0,104.0L424.5,104.5L425.0,105.0L425.5,105.5L426.0,106.0L426.5,106.5L427.0,106.9L427.5,107.4L428.0,107.9L428.5,108.4L429.0,108.9L429.5,109.4L430.0,109.9L430.5,110.4L431.0,111.0L431.5,111.5L432.0,112.1L432.5,112.7L433.0,113.2L433.5,113.8L434.0,114.4L434.5,115.0L434.6,115.1L435.0,115.6L435.5,116.2L436.0,116.9L436.5,117.6L437.0,118.3L437.5,119.1L438.0,119.9L438.5,120.7L439.0,121.5L439.5,122.3L440.0,123.0L440.2,123.2L440.5,123.6L441.0,124.0L441.5,124.3L442.0,124.7L442.5,125.0L443.0,125.5L443.5,126.1L444.0,126.9L444.5,128.0L445.0,129.5L445.5,130.4L445.6,130.4L445.8,130.4L446.0,130.2L446.1,130.1L446.5,129.2L447.0,127.5L447.2,126.7L447.5,125.3L448.0,122.5L448.5,119.2L448.6,118.4L449.0,115.0L449.3,112.1L449.5,109.8L450.0,103.1L450.4,97.0L450.5,93.8L450.7,88.9L450.9,83.9L451.0,79.9L451.1,78.3L451.1,75.4L451.2,72.8L451.3,71.2L451.3,70.5L451.4,70.2L451.5,70.5L451.5,71.1L451.5,71.2L451.6,72.8L451.7,75.4L451.8,78.3L451.9,83.9L452.0,86.1L452.1,88.9L452.4,97.0L452.5,97.9L452.8,103.1L453.0,106.1L453.5,112.1L454.0,116.9L454.2,118.6L454.5,120.9L454.9,123.6L455.0,124.3L455.5,127.1L455.6,127.7L456.0,129.6L456.5,131.8L457.0,133.5L457.5,134.7L458.0,135.0L458.5,134.0L459.0,131.6L459.5,128.8L459.8,127.4L460.0,126.6L460.5,125.0L461.0,124.0L461.5,123.4L462.0,123.2L462.5,123.4L462.6,123.5L463.0,123.8L463.5,124.3L463.7,124.5L464.0,124.7L464.5,125.0L465.0,125.0L465.5,124.8L466.0,124.7L466.5,124.7L467.0,124.6L467.5,124.6L468.0,124.5L468.1,124.5L468.2,124.5L468.5,124.4L469.0,124.3L469.5,124.2L469.6,124.1L470.0,124.0L470.5,123.8L471.0,123.6L471.5,123.3L472.0,123.1L472.5,122.8L473.0,122.5L473.5,122.1L473.8,121.9L474.0,121.7L474.5,121.3L474.7,121.1L475.0,120.8L475.5,120.2L476.0,119.6L476.5,118.9L476.9,118.2L477.0,118.0L477.5,117.1L478.0,115.9L478.5,114.6L479.0,113.1L479.1,112.8L479.5,111.5L479.6,111.0L480.0,109.9L480.2,109.3L480.5,108.4L480.6,108.1L481.0,107.6L481.0,107.5L481.3,107.4L481.5,107.4L481.6,107.5L482.0,108.0L482.0,108.1L482.4,109.1L482.5,109.4L482.9,110.8L483.0,110.9L483.5,112.4L484.0,113.8L484.5,115.0L484.6,115.2L485.0,116.0L485.5,116.8L485.7,117.1L486.0,117.6L486.5,118.1L487.0,118.7L487.5,119.2L487.9,119.6L488.0,119.7L488.5,120.1L489.0,120.6L489.5,121.2L490.0,121.8L490.1,122.0L490.5,122.5L491.0,123.3L491.5,124.2L492.0,125.2L492.5,126.2L493.0,127.3L493.5,128.3L493.6,128.5L494.0,129.2L494.5,130.1L495.0,130.9L495.5,131.5L496.0,132.1L496.5,132.5L497.0,132.9L497.5,133.3L498.0,133.6L498.5,133.9L498.9,134.1L499.0,134.1L499.5,134.4L500.0,134.6L500.5,134.8L501.0,134.9L501.5,135.1L502.0,135.2L502.5,135.4L503.0,135.5L503.5,135.6L504.0,135.8L504.5,135.9L505.0,136.0L505.5,136.1L505.6,136.1L506.0,136.1L506.5,136.2L507.0,136.3L507.5,136.4L507.7,136.4L508.0,136.5L508.5,136.6L509.0,136.7L509.5,136.8L510.0,136.8L510.5,136.9L511.0,137.0L511.5,137.2L512.0,137.3L512.5,137.4L513.0,137.5L513.5,137.6L514.0,137.8L514.5,137.9L515.0,138.0L515.5,138.2L516.0,138.3L516.5,138.4L517.0,138.5L517.5,138.7L517.6,138.7L518.0,138.8L518.5,138.9L519.0,139.0L519.5,139.2L520.0,139.3L520.5,139.4L521.0,139.5L521.5,139.6L522.0,139.7L522.5,139.8L523.0,139.9L523.5,139.9L523.6,139.9L524.0,140.0L524.5,140.1L525.0,140.1L525.5,140.2L526.0,140.2L526.5,140.2L527.0,140.2L527.5,140.2L528.0,140.1L528.5,140.1L529.0,140.0L529.5,139.9L529.6,139.9L530.0,139.8L530.5,139.7L531.0,139.6L531.5,139.4L532.0,139.3L532.5,139.1L532.6,139.1L533.0,139.0L533.5,138.8L534.0,138.6L534.1,138.6L534.5,138.5L535.0,138.3L535.5,138.1L535.6,138.1L536.0,138.0L536.5,137.8L536.8,137.7L537.0,137.6L537.1,137.6L537.5,137.4L538.0,137.2L538.5,136.9L538.6,136.9L539.0,136.6L539.4,136.4L539.5,136.2L540.0,135.7L540.1,135.5L540.5,135.0L540.5,135.0L540.9,134.4L541.0,134.2L541.1,134.0L541.4,133.8L541.5,133.8L541.6,133.8L541.8,134.0L542.0,134.2L542.0,134.3L542.4,134.9L542.5,135.2L542.7,135.7L543.0,136.3L543.1,136.5L543.5,137.3L543.9,138.0L544.0,138.2L544.5,138.9L544.6,139.1L545.0,139.6L545.5,140.2L546.0,140.7L546.1,140.8L546.5,141.2L547.0,141.6L547.5,142.0L547.6,142.1L548.0,142.3L548.5,142.6L549.0,142.8L549.5,143.0L550.0,143.1L550.5,143.3L550.6,143.3L551.0,143.4L551.2,143.4L551.5,143.5L551.7,143.6L552.0,143.6L552.5,143.7L553.0,143.8L553.5,143.8L553.6,143.9L554.0,143.9L554.5,144.0L555.0,144.0L555.5,144.0L556.0,144.1L556.5,144.1L557.0,144.1L557.5,144.2L558.0,144.2L558.5,144.2L559.0,144.2L559.5,144.2L559.6,144.2L560.0,144.2L560.5,144.2L561.0,144.2L561.5,144.2L562.0,144.2L562.5,144.2L563.0,144.2L563.5,144.2L564.0,144.2L564.5,144.2L565.0,144.2L565.5,144.1L565.6,144.1L566.0,144.1L566.5,144.1L567.0,144.0L567.5,144.0L568.0,143.9L568.5,143.8L569.0,143.8L569.5,143.7L570.0,143.6L570.5,143.6L571.0,143.5L571.5,143.4L572.0,143.3L572.5,143.2L572.8,143.1L573.0,143.1L573.5,143.0L574.0,142.9L574.5,142.8L575.0,142.7L575.5,142.6L576.0,142.5L576.5,142.3L577.0,142.2L577.5,142.1L577.6,142.1L578.0,141.9L578.5,141.8L579.0,141.7L579.5,141.5L580.0,141.3L580.5,141.2L581.0,141.0L581.5,140.8L582.0,140.6L582.5,140.4L583.0,140.2L583.5,140.0L583.6,139.9L584.0,139.7L584.5,139.5L585.0,139.2L585.5,138.9L586.0,138.5L586.5,137.7L586.9,137.2L587.0,137.1L587.2,136.9L587.5,136.5L588.0,136.0L588.5,135.4L589.0,134.8L589.5,134.1L589.6,133.9L590.0,133.2L590.5,132.2L590.8,131.5L591.0,131.0L591.5,129.5L591.7,128.7L592.0,127.5L592.5,124.8L592.6,124.1L593.0,121.1L593.0,120.7L593.5,116.4L593.7,114.0L594.0,111.8L594.0,111.4L594.1,110.4L594.3,109.7L594.4,109.5L594.5,109.6L594.5,109.7L594.7,110.4L594.9,111.7L595.0,113.1L595.1,113.9L595.3,116.2L595.5,118.1L595.8,120.2L596.0,122.1L596.2,123.3L596.5,124.9L597.0,126.7L597.1,127.0L597.5,128.0L598.0,128.8L598.5,129.3L599.0,129.6L599.5,129.8L599.8,129.9L600.0,129.9L600.5,130.0L601.0,130.0L601.5,130.0L601.6,130.1L602.0,130.1L602.5,130.5L603.0,132.0L603.5,132.6L603.6,132.7L604.0,133.0L604.5,133.3L605.0,133.6L605.2,133.8L605.5,133.9L606.0,134.3L606.5,134.6L607.0,134.9L607.5,135.2L608.0,135.5L608.5,135.7L608.8,135.9L609.0,136.0L609.5,136.2L610.0,136.4L610.5,136.6L611.0,136.8L611.5,137.0L612.0,137.0L612.5,137.1L613.0,137.1L613.2,137.1L613.5,137.1L613.6,137.1L614.0,137.0L614.5,136.8L615.0,136.4L615.5,136.0L616.0,135.5L616.5,134.9L617.0,134.2L617.5,133.4L618.0,132.6L618.5,131.7L619.0,130.9L619.5,130.1L620.0,129.4L620.5,128.7L621.0,128.1L621.5,127.6L622.0,127.2L622.1,127.1L622.5,126.8L622.8,126.6L623.0,126.4L623.2,126.3L623.5,126.1L624.0,125.7L624.5,125.4L625.0,125.1L625.5,124.9L626.0,124.6L626.5,124.3L627.0,124.1L627.5,123.8L627.6,123.8L628.0,123.6L628.5,123.3L629.0,123.1L629.5,122.8L630.0,122.5L630.5,122.3L631.0,122.0L631.5,121.7L632.0,121.4L632.4,121.2L632.5,121.2L633.0,120.9L633.5,120.6L634.0,120.3L634.5,120.0L634.8,119.8L635.0,119.7L635.5,119.4L636.0,119.0L636.5,118.6L637.0,118.2L637.2,118.0L637.5,117.7L637.6,117.7L638.0,117.2L638.4,116.8L638.5,116.6L639.0,115.9L639.5,114.9L639.6,114.7L640.0,113.6L640.2,112.8L640.5,111.4L640.8,109.5L641.0,107.7L641.1,106.7L641.4,103.1L641.5,101.8L641.5,101.1L641.7,99.1L641.8,97.8L641.9,97.2L642.0,97.0L642.1,97.2L642.2,97.8L642.3,99.0L642.5,100.9L642.5,101.6L642.6,102.9L642.9,106.3L643.0,107.2L643.2,108.7L643.5,110.3L643.8,111.3L644.0,111.8L644.4,112.4L644.5,112.5L645.0,112.8L645.5,112.9L645.6,112.9L646.0,112.9L646.5,112.7L646.8,112.6L647.0,112.5L647.5,112.3L648.0,112.0L648.5,111.7L649.0,111.3L649.2,111.2L649.5,111.0L650.0,110.6L650.5,110.1L651.0,109.7L651.5,109.2L651.6,109.1L652.0,108.7L652.5,108.2L653.0,107.7L653.5,107.3L654.0,106.8L654.5,106.4L655.0,106.0L655.5,105.6L656.0,105.3L656.4,105.0L656.5,105.0L657.0,104.6L657.5,104.3L658.0,104.0L658.5,103.7L659.0,103.4L659.5,103.1L660.0,102.8L660.5,102.6L661.0,102.3L661.2,102.1L661.5,102.0L662.0,101.6L662.5,101.3L663.0,101.0L663.5,100.7L664.0,100.3L664.5,100.0L665.0,99.6L665.5,99.3L666.0,98.9L666.5,98.6L667.0,98.2L667.5,97.9L668.0,97.5L668.5,97.2L669.0,96.8L669.5,96.4L670.0,96.1L670.5,95.7L670.8,95.5L671.0,95.4L671.5,95.0" stroke="#77AC30" stroke-width="2.4" fill="none" stroke-linejoin="round" stroke-linecap="round"/>
<path d="M404.0,75.6L404.5,78.1L405.0,78.7L405.5,77.8L406.0,76.6L406.5,76.4L407.0,76.4L407.5,76.2L408.0,76.4L408.5,76.3L409.0,76.4L409.5,77.4L410.0,78.5L410.5,79.2L411.0,80.0L411.5,80.7L412.0,81.4L412.5,82.0L413.0,82.7L413.5,83.7L414.0,84.7L414.5,85.9L415.0,87.0L415.5,87.3L415.6,87.3L416.0,87.6L416.5,89.1L417.0,90.7L417.5,91.4L418.0,92.1L418.5,93.2L419.0,94.3L419.5,95.0L420.0,95.6L420.5,97.1L421.0,98.5L421.5,100.0L422.0,101.4L422.5,101.5L423.0,101.7L423.5,102.2L423.8,102.5L424.0,102.7L424.5,103.5L424.9,104.0L425.0,104.1L425.5,105.3L426.0,106.4L426.5,107.6L427.0,108.7L427.5,108.7L428.0,108.8L428.5,109.4L429.0,110.0L429.4,110.0L429.5,110.0L430.0,109.9L430.5,110.8L431.0,111.7L431.5,111.7L432.0,111.7L432.5,112.5L433.0,113.0L433.2,113.0L433.5,112.9L434.0,112.7L434.5,112.6L435.0,112.6L435.5,113.0L436.0,113.6L436.5,114.1L437.0,115.0L437.5,117.1L437.8,118.6L438.0,119.6L438.5,121.9L439.0,124.1L439.5,125.8L440.0,126.1L440.5,124.9L440.6,124.6L441.0,123.2L441.5,121.0L442.0,118.5L442.5,115.6L443.0,112.2L443.4,109.2L443.5,108.4L444.0,103.7L444.1,102.7L444.5,97.9L444.8,93.7L445.0,90.3L445.1,87.5L445.5,79.4L445.7,74.4L445.9,68.8L445.9,65.9L446.0,64.0L446.0,63.3L446.1,61.7L446.1,61.0L446.2,60.7L446.3,61.0L446.3,61.7L446.4,63.3L446.5,65.9L446.5,67.1L446.6,68.8L446.7,74.4L446.9,79.4L447.0,82.0L447.2,87.5L447.5,92.0L447.6,93.6L448.0,99.2L448.3,102.7L448.5,104.7L449.0,109.2L449.5,112.9L450.0,116.1L450.4,118.3L450.5,118.8L450.8,120.3L451.0,121.3L451.5,123.4L451.8,124.6L452.0,125.3L452.5,126.9L453.0,128.2L453.5,128.8L453.7,128.7L454.0,128.2L454.5,126.0L454.6,125.5L455.0,121.9L455.2,122.3L455.5,123.1L456.0,123.6L456.5,123.9L457.0,124.0L457.4,124.0L457.5,124.0L458.0,123.9L458.5,123.8L459.0,123.7L459.5,123.5L459.6,123.5L460.0,123.3L460.5,123.0L461.0,122.7L461.5,122.3L461.8,122.0L462.0,121.8L462.5,121.3L463.0,120.7L463.5,120.0L464.0,119.2L464.5,118.3L465.0,117.2L465.1,116.9L465.5,115.9L466.0,114.5L466.2,113.8L466.5,112.9L466.8,112.0L467.0,111.2L467.3,110.2L467.5,109.7L467.7,109.1L468.0,108.6L468.1,108.5L468.4,108.3L468.5,108.3L468.6,108.4L468.7,108.5L469.0,108.9L469.1,109.0L469.5,110.0L470.0,111.5L470.1,111.7L470.5,113.0L470.6,113.3L471.0,114.4L471.5,115.5L471.7,115.9L472.0,116.5L472.2,116.8L472.5,117.3L472.8,117.7L473.0,117.9L473.5,118.4L474.0,118.9L474.5,119.2L475.0,119.5L475.5,119.8L476.0,120.0L476.5,120.3L477.0,120.6L477.2,120.7L477.5,120.8L478.0,121.1L478.5,121.4L479.0,121.8L479.5,122.1L480.0,122.5L480.5,122.9L481.0,123.4L481.5,123.9L481.6,124.0L482.0,124.4L482.5,124.9L483.0,125.4L483.5,126.0L484.0,126.5L484.5,127.0L485.0,127.5L485.5,128.0L486.0,128.4L486.5,128.9L487.0,129.2L487.5,129.6L488.0,129.9L488.5,130.2L489.0,130.5L489.5,130.8L490.0,131.1L490.5,131.4L491.0,131.7L491.5,132.0L492.0,132.2L492.5,132.5L493.0,132.8L493.5,133.0L494.0,133.3L494.5,133.6L494.8,133.7L495.0,133.8L495.5,134.1L496.0,134.3L496.5,134.5L496.9,134.7L497.0,134.8L497.5,135.0L497.8,135.1L498.0,135.2L498.5,135.5L499.0,135.7L499.5,135.9L500.0,136.1L500.5,136.3L501.0,136.5L501.5,136.7L502.0,136.9L502.5,137.1L503.0,137.3L503.5,137.5L503.6,137.5L504.0,137.7L504.5,137.8L505.0,138.0L505.5,138.2L506.0,138.3L506.5,138.5L507.0,138.6L507.5,138.8L508.0,138.9L508.5,139.1L509.0,139.2L509.5,139.3L510.0,139.5L510.5,139.6L511.0,139.7L511.3,139.8L511.5,139.8L512.0,139.9L512.5,140.1L513.0,140.2L513.5,140.3L514.0,140.4L514.5,140.5L515.0,140.6L515.5,140.7L516.0,140.8L516.5,140.9L517.0,141.0L517.5,141.1L518.0,141.1L518.5,141.2L519.0,141.3L519.5,141.4L520.0,141.4L520.2,141.5L520.5,141.5L521.0,141.6L521.2,141.6L521.5,141.6L522.0,141.7L522.5,141.7L523.0,141.8L523.4,141.8L523.5,141.8L524.0,141.8L524.5,141.8L525.0,141.9L525.5,141.9L525.7,141.9L526.0,141.9L526.5,141.9L527.0,141.9L527.5,141.9L528.0,141.9L528.5,141.8L529.0,141.8L529.3,141.7L529.5,141.7L530.0,141.6L530.5,141.5L531.0,140.9L531.5,140.2L532.0,139.9L532.5,139.7L532.9,139.6L533.0,139.6L533.5,139.4L534.0,139.2L534.5,138.9L534.7,138.8L535.0,138.6L535.5,138.2L536.0,137.8L536.2,137.6L536.5,137.3L537.0,136.6L537.4,135.9L537.5,135.7L538.0,134.6L538.3,133.8L538.5,133.2L538.8,132.5L538.8,132.3L539.0,131.7L539.2,131.1L539.5,130.4L539.6,130.2L539.8,129.8L540.0,129.7L540.1,129.6L540.4,129.8L540.5,130.0L540.6,130.2L541.0,131.1L541.5,132.4L541.5,132.5L541.9,133.7L542.0,133.9L542.5,135.1L542.6,135.3L542.8,135.7L543.0,136.0L543.5,136.7L543.7,137.0L544.0,137.3L544.5,137.7L544.6,137.8L545.0,138.1L545.5,138.3L546.0,138.5L546.5,138.7L547.0,138.9L547.3,138.9L547.5,139.0L548.0,139.1L548.5,139.2L549.0,139.3L549.5,139.4L550.0,139.5L550.5,139.6L550.9,139.7L551.0,139.7L551.5,139.8L552.0,139.9L552.5,140.1L553.0,140.2L553.5,140.4L554.0,140.5L554.5,140.6L555.0,140.8L555.4,140.9L555.5,140.9L556.0,141.1L556.5,141.3L557.0,141.4L557.5,141.6L558.0,141.7L558.5,141.9L559.0,142.0L559.5,142.1L560.0,142.3L560.5,142.4L561.0,142.4L561.5,142.5L561.7,142.5L561.8,142.5L562.0,142.5L562.5,142.5L563.0,142.5L563.5,142.2L564.0,141.9L564.5,141.6L565.0,141.4L565.5,141.2L566.0,141.0L566.5,140.8L567.0,140.6L567.5,140.3L568.0,140.0L568.2,139.9L568.5,139.7L568.9,139.4L569.0,139.3L569.5,138.9L569.8,138.7L570.0,138.5L570.5,137.9L571.0,137.2L571.4,136.5L571.5,136.3L572.0,135.2L572.2,134.7L572.5,133.8L573.0,132.1L573.4,130.5L573.5,130.1L573.8,129.0L574.0,128.3L574.1,128.0L574.4,127.5L574.5,127.3L574.6,127.3L574.8,127.4L575.0,127.7L575.1,127.9L575.4,128.8L575.5,129.2L575.8,130.3L576.0,131.0L576.2,131.7L576.5,132.6L577.0,133.9L577.5,134.8L577.8,135.3L578.0,135.5L578.5,136.0L579.0,136.3L579.4,136.5L579.5,136.6L580.0,136.8L580.5,136.9L581.0,136.9L581.5,137.0L582.0,137.0L582.5,137.0L583.0,137.0L583.3,137.0L583.5,137.0L584.0,137.0L584.2,137.0L584.5,137.1L585.0,137.1L585.5,137.2L586.0,137.3L586.5,137.4L587.0,137.6L587.4,137.7L587.5,137.8L588.0,137.9L588.5,138.1L589.0,138.2L589.4,138.2L589.5,138.2L590.0,138.2L590.5,138.2L591.0,138.1L591.5,138.1L592.0,138.0L592.5,137.9L593.0,137.9L593.5,137.8L593.8,137.7L594.0,137.7L594.5,137.6L595.0,137.5L595.5,137.4L596.0,137.2L596.5,137.1L597.0,136.9L597.5,136.8L597.7,136.7L598.0,136.6L598.5,136.4L598.6,136.4L599.0,136.2L599.5,135.9L600.0,135.6L600.2,135.4L600.5,135.2L600.6,135.0L601.0,134.3L601.4,133.1L601.5,133.0L602.0,132.2L602.5,131.6L603.0,131.0L603.5,130.5L604.0,129.9L604.2,129.6L604.5,129.3L605.0,128.6L605.5,127.9L605.6,127.8L606.0,127.1L606.5,126.2L607.0,125.1L607.5,123.8L607.7,123.2L608.0,122.2L608.4,120.7L608.5,120.2L608.8,119.1L609.0,118.1L609.1,117.6L609.2,117.3L609.4,116.6L609.5,116.3L609.6,116.1L609.8,115.9L610.0,116.0L610.0,116.0L610.2,116.4L610.5,117.1L610.9,118.3L611.0,118.8L611.2,119.4L611.5,120.2L611.8,120.8L611.9,121.0L612.0,121.1L612.5,121.7L612.6,121.8L613.0,122.0L613.5,122.1L614.0,122.2L614.5,122.1L615.0,122.0L615.4,121.9L615.5,121.8L616.0,121.7L616.5,121.6L617.0,121.5L617.4,121.4L617.5,121.4L618.0,121.5L618.2,121.5L618.5,121.6L619.0,121.9L619.5,122.3L620.0,122.8L620.5,123.5L621.0,124.1L621.5,124.8L622.0,125.2L622.5,125.4L623.0,125.5L623.5,125.6L624.0,125.3L624.5,125.0L625.0,124.7L625.5,124.4L625.8,124.1L626.0,124.0L626.5,123.6L626.6,123.5L627.0,123.2L627.5,122.8L628.0,122.3L628.5,121.8L628.6,121.7L629.0,121.2L629.5,120.6L630.0,119.8L630.5,118.9L631.0,117.9L631.4,116.8L631.5,116.6L632.0,114.9L632.1,114.6L632.2,114.2L632.5,112.9L632.8,111.5L633.0,110.4L633.1,109.7L633.5,107.9L633.8,106.8L634.0,106.2L634.0,106.2L634.2,106.0L634.4,106.1L634.5,106.3L634.6,106.6L634.9,107.6L635.0,108.0L635.2,109.2L635.5,110.3L635.6,110.7L636.0,112.2L636.3,113.1L636.5,113.6L637.0,114.5L637.5,115.2L638.0,115.5L638.4,115.7L638.5,115.7L639.0,115.8L639.5,115.8L639.8,115.8L640.0,115.7L640.5,115.6L641.0,115.4L641.5,115.3L642.0,115.1L642.5,114.9L642.6,114.8L643.0,114.7L643.4,114.6L643.5,114.5L644.0,114.4L644.5,114.3L645.0,114.3L645.4,114.4L645.5,114.3L646.0,114.1L646.5,113.7L647.0,113.3L647.5,112.8L648.0,112.2L648.5,111.7L649.0,111.2L649.5,110.7L650.0,110.3L650.5,109.8L651.0,109.5L651.4,109.2L651.5,109.1L652.0,108.7L652.5,108.4L653.0,108.0L653.5,107.7L654.0,107.3L654.5,107.0L654.6,106.9L655.0,106.6L655.3,106.4L655.5,106.3L656.0,105.9L656.5,105.6L656.6,105.5L657.0,105.2L657.5,104.8L658.0,104.5L658.5,104.1L659.0,103.7L659.5,103.2L660.0,102.8L660.5,102.4L661.0,102.0L661.5,101.5L662.0,101.0L662.5,100.6L663.0,100.1L663.5,99.7L664.0,99.2L664.5,98.7L665.0,98.2L665.5,97.8L666.0,97.3L666.5,96.8L667.0,96.3L667.5,95.9L667.8,95.6L668.0,95.4L668.5,94.9L669.0,94.4L669.5,93.9L670.0,93.4L670.5,93.0L671.0,92.5L671.5,92.0" stroke="#4DBEEE" stroke-width="2.4" fill="none" stroke-linejoin="round" stroke-linecap="round"/>
</g>
<defs><pattern id="gp" width="5" height="5" patternUnits="userSpaceOnUse">
<rect width="5" height="5" fill="#d8b430"/>
<rect x="0.5" y="0.5" width="1.2" height="1.2" fill="#e8cf58"/>
<rect x="3" y="2.2" width="1.2" height="1.2" fill="#e6cb52"/>
<rect x="1.8" y="3.4" width="1" height="1" fill="#b8931f"/>
<rect x="3.6" y="0.2" width="0.9" height="0.9" fill="#bf9a26"/>
</pattern></defs><rect x="84.2" y="31.1" width="7.0" height="40.699999999999996" fill="url(#gp)"/>
<rect x="96.7" y="31.1" width="6.2" height="40.699999999999996" fill="url(#gp)"/>
<rect x="83.9" y="31.1" width="19.300000000000004" height="2.5" fill="url(#gp)"/>
<path d="M83.9,32.95L103.2,31.75" stroke="#bf9a26" stroke-width="0.8"/>
<rect x="83.9" y="41.4" width="19.300000000000004" height="2.3999999999999986" fill="url(#gp)"/>
<path d="M83.9,43.199999999999996L103.2,41.99999999999999" stroke="#bf9a26" stroke-width="0.8"/>
<rect x="83.9" y="53.1" width="19.300000000000004" height="2.5" fill="url(#gp)"/>
<path d="M83.9,54.95L103.2,53.75" stroke="#bf9a26" stroke-width="0.8"/>
<rect x="83.9" y="62.8" width="19.300000000000004" height="2.6000000000000085" fill="url(#gp)"/>
<path d="M83.9,64.69999999999999L103.2,63.49999999999999" stroke="#bf9a26" stroke-width="0.8"/>
<rect x="188.8" y="30.9" width="7.0" height="40.6" fill="url(#gp)"/>
<rect x="201.5" y="30.9" width="6.9" height="40.6" fill="url(#gp)"/>
<rect x="188.5" y="30.9" width="20.199999999999996" height="2.6000000000000014" fill="url(#gp)"/>
<path d="M188.5,32.800000000000004L208.70000000000002,31.6" stroke="#bf9a26" stroke-width="0.8"/>
<rect x="188.5" y="40.8" width="20.199999999999996" height="2.5" fill="url(#gp)"/>
<path d="M188.5,42.65L208.70000000000002,41.449999999999996" stroke="#bf9a26" stroke-width="0.8"/>
<rect x="188.5" y="51.8" width="20.199999999999996" height="2.700000000000003" fill="url(#gp)"/>
<path d="M188.5,53.75L208.70000000000002,52.55" stroke="#bf9a26" stroke-width="0.8"/>
<rect x="188.5" y="62.2" width="20.199999999999996" height="2.700000000000003" fill="url(#gp)"/>
<path d="M188.5,64.15L208.70000000000002,62.95" stroke="#bf9a26" stroke-width="0.8"/>
<path d="M102.5,41.2L108.4,39.7" stroke="#c8b040" stroke-width="1.0" fill="none" stroke-linejoin="round"/>
<path d="M108.4,39.7L112.5,46L119.5,43.9L124.4,48.1L129.9,46L135.5,49.5L141.8,46.7L147.7,50.3L152.5,46.8L157.4,48.9L163,46.8L167.9,50.3" stroke="#939393" stroke-width="1.8" fill="none" stroke-linejoin="round"/><path d="M108.4,39.35L112.5,45.65L119.5,43.55L124.4,47.75L129.9,45.65L135.5,49.15L141.8,46.35L147.7,49.949999999999996L152.5,46.449999999999996L157.4,48.55L163,46.449999999999996L167.9,49.949999999999996" stroke="#dcdcdc" stroke-width="0.55" fill="none" stroke-linejoin="round"/>
<path d="M167.9,50.3L173.5,47.3L179,50.3L179,56.5L173.5,59.6L167.9,56.5L167.9,50.3" stroke="#939393" stroke-width="1.8" fill="none" stroke-linejoin="round"/><path d="M167.9,49.949999999999996L173.5,46.949999999999996L179,49.949999999999996L179,56.15L173.5,59.25L167.9,56.15L167.9,49.949999999999996" stroke="#dcdcdc" stroke-width="0.55" fill="none" stroke-linejoin="round"/>
<path d="M119.5,43.9L119.5,40.2" stroke="#a8a8a8" stroke-width="0.9"/><circle cx="119.5" cy="40.2" r="0.85" fill="#c4c4c4"/><path d="M129.9,46L130,42.2" stroke="#a8a8a8" stroke-width="0.9"/><circle cx="130" cy="42.2" r="0.85" fill="#c4c4c4"/><path d="M141.8,46.7L141.8,43" stroke="#a8a8a8" stroke-width="0.9"/><circle cx="141.8" cy="43" r="0.85" fill="#c4c4c4"/><path d="M152.5,46.8L152.5,43.2" stroke="#a8a8a8" stroke-width="0.9"/><circle cx="152.5" cy="43.2" r="0.85" fill="#c4c4c4"/><path d="M112.5,46L112,50" stroke="#a8a8a8" stroke-width="0.9"/><circle cx="112" cy="50" r="0.85" fill="#c4c4c4"/><path d="M124.4,48.1L124.4,52" stroke="#a8a8a8" stroke-width="0.9"/><circle cx="124.4" cy="52" r="0.85" fill="#c4c4c4"/><path d="M135.5,49.5L135.5,53.2" stroke="#a8a8a8" stroke-width="0.9"/><circle cx="135.5" cy="53.2" r="0.85" fill="#c4c4c4"/><path d="M147.7,50.3L147.7,54" stroke="#a8a8a8" stroke-width="0.9"/><circle cx="147.7" cy="54" r="0.85" fill="#c4c4c4"/><path d="M163,46.8L163,43" stroke="#a8a8a8" stroke-width="0.9"/><circle cx="163" cy="43" r="0.85" fill="#c4c4c4"/><path d="M173.5,47.3L174,44" stroke="#a8a8a8" stroke-width="0.9"/><circle cx="174" cy="44" r="0.85" fill="#c4c4c4"/><path d="M179,50.3L183.2,48.9" stroke="#a8a8a8" stroke-width="0.9"/><circle cx="183.2" cy="48.9" r="0.85" fill="#c4c4c4"/><path d="M179,56.5L183.2,58" stroke="#a8a8a8" stroke-width="0.9"/><circle cx="183.2" cy="58" r="0.85" fill="#c4c4c4"/><path d="M173.5,59.6L172.7,63.6" stroke="#a8a8a8" stroke-width="0.9"/><circle cx="172.7" cy="63.6" r="0.85" fill="#c4c4c4"/><path d="M167.9,56.5L163.7,55.9" stroke="#a8a8a8" stroke-width="0.9"/><circle cx="163.7" cy="55.9" r="0.85" fill="#c4c4c4"/>
<circle cx="108.4" cy="39.7" r="1.2" fill="#d8c040"/>
<circle cx="157.4" cy="48.9" r="1.2" fill="#d03020"/>
<rect x="453.4" y="16.5" width="5.8" height="69.0" fill="url(#gp)"/>
<rect x="465.7" y="16.5" width="5.2" height="69.0" fill="url(#gp)"/>
<rect x="453.09999999999997" y="16.5" width="18.1" height="4.0" fill="url(#gp)"/>
<path d="M453.09999999999997,19.1L471.2,17.9" stroke="#bf9a26" stroke-width="0.8"/>
<rect x="453.09999999999997" y="32.4" width="18.1" height="2.5" fill="url(#gp)"/>
<path d="M453.09999999999997,34.25L471.2,33.05" stroke="#bf9a26" stroke-width="0.8"/>
<rect x="453.09999999999997" y="47.3" width="18.1" height="2.3000000000000043" fill="url(#gp)"/>
<path d="M453.09999999999997,49.050000000000004L471.2,47.85" stroke="#bf9a26" stroke-width="0.8"/>
<rect x="453.09999999999997" y="62.3" width="18.1" height="2.299999999999997" fill="url(#gp)"/>
<path d="M453.09999999999997,64.05L471.2,62.849999999999994" stroke="#bf9a26" stroke-width="0.8"/>
<rect x="453.09999999999997" y="76.5" width="18.1" height="2.299999999999997" fill="url(#gp)"/>
<path d="M453.09999999999997,78.25L471.2,77.05000000000001" stroke="#bf9a26" stroke-width="0.8"/>
<rect x="547.8" y="16.8" width="5.0" height="68.4" fill="url(#gp)"/>
<rect x="559.7" y="16.8" width="5.0" height="68.4" fill="url(#gp)"/>
<rect x="547.5" y="16.8" width="17.500000000000092" height="4.0" fill="url(#gp)"/>
<path d="M547.5,19.400000000000002L565.0,18.2" stroke="#bf9a26" stroke-width="0.8"/>
<rect x="547.5" y="33.3" width="17.500000000000092" height="2.5" fill="url(#gp)"/>
<path d="M547.5,35.15L565.0,33.949999999999996" stroke="#bf9a26" stroke-width="0.8"/>
<rect x="547.5" y="46.8" width="17.500000000000092" height="2.5" fill="url(#gp)"/>
<path d="M547.5,48.65L565.0,47.449999999999996" stroke="#bf9a26" stroke-width="0.8"/>
<rect x="547.5" y="61" width="17.500000000000092" height="2.5" fill="url(#gp)"/>
<path d="M547.5,62.85L565.0,61.65" stroke="#bf9a26" stroke-width="0.8"/>
<rect x="547.5" y="75.3" width="17.500000000000092" height="2.5" fill="url(#gp)"/>
<path d="M547.5,77.14999999999999L565.0,75.95" stroke="#bf9a26" stroke-width="0.8"/>
<path d="M470.5,49.3L478.3,58.6L470.5,63.2" stroke="#c8b040" stroke-width="0.9" fill="none" stroke-linejoin="round"/>
<path d="M478.3,58.6L483,65.9L489,62.9L495,66.9L501,63.9L507,67.9L513,64.5L519,67.9L525,64.5L529.9,67.3L534.9,64.9L536,61" stroke="#939393" stroke-width="1.8" fill="none" stroke-linejoin="round"/><path d="M478.3,58.25L483,65.55000000000001L489,62.55L495,66.55000000000001L501,63.55L507,67.55000000000001L513,64.15L519,67.55000000000001L525,64.15L529.9,66.95L534.9,64.55000000000001L536,60.65" stroke="#dcdcdc" stroke-width="0.55" fill="none" stroke-linejoin="round"/>
<path d="M536,61L535.4,52L536.6,41L539.3,33L540.3,41L539.2,52L536,61" stroke="#9a9a9a" stroke-width="1.1" fill="none" stroke-linejoin="round"/>
<path d="M489,62.9L489.5,56.5" stroke="#a8a8a8" stroke-width="0.9"/><circle cx="489.5" cy="56.5" r="0.85" fill="#c4c4c4"/><path d="M501,63.9L501.3,57.2" stroke="#a8a8a8" stroke-width="0.9"/><circle cx="501.3" cy="57.2" r="0.85" fill="#c4c4c4"/><path d="M513,64.5L513.2,57.8" stroke="#a8a8a8" stroke-width="0.9"/><circle cx="513.2" cy="57.8" r="0.85" fill="#c4c4c4"/><path d="M525,64.5L525.3,57.8" stroke="#a8a8a8" stroke-width="0.9"/><circle cx="525.3" cy="57.8" r="0.85" fill="#c4c4c4"/><path d="M483,65.9L482.6,72" stroke="#a8a8a8" stroke-width="0.9"/><circle cx="482.6" cy="72" r="0.85" fill="#c4c4c4"/><path d="M495,66.9L495,73.2" stroke="#a8a8a8" stroke-width="0.9"/><circle cx="495" cy="73.2" r="0.85" fill="#c4c4c4"/><path d="M507,67.9L507,74" stroke="#a8a8a8" stroke-width="0.9"/><circle cx="507" cy="74" r="0.85" fill="#c4c4c4"/><path d="M519,67.9L519,74" stroke="#a8a8a8" stroke-width="0.9"/><circle cx="519" cy="74" r="0.85" fill="#c4c4c4"/><path d="M534.9,64.9L538.5,70" stroke="#a8a8a8" stroke-width="0.9"/><circle cx="538.5" cy="70" r="0.85" fill="#c4c4c4"/><path d="M539.3,33L541,27.5" stroke="#a8a8a8" stroke-width="0.9"/><circle cx="541" cy="27.5" r="0.85" fill="#c4c4c4"/><path d="M536.6,41L533.8,39" stroke="#a8a8a8" stroke-width="0.9"/><circle cx="533.8" cy="39" r="0.85" fill="#c4c4c4"/><path d="M540.3,41L543,42" stroke="#a8a8a8" stroke-width="0.9"/><circle cx="543" cy="42" r="0.85" fill="#c4c4c4"/>
<circle cx="478.3" cy="58.6" r="1.2" fill="#d8c040"/>
<circle cx="529.9" cy="67.3" r="1.2" fill="#d03020"/>
<path d="M53.20,205.4v-2.7M53.20,9.0v2.7M120.23,205.4v-2.7M120.23,9.0v2.7M187.25,205.4v-2.7M187.25,9.0v2.7M254.28,205.4v-2.7M254.28,9.0v2.7M321.30,205.4v-2.7M321.30,9.0v2.7M53.2,9.00h2.7M321.3,9.00h-2.7M53.2,27.73h1.6M321.3,27.73h-1.6M53.2,23.01h1.6M321.3,23.01h-1.6M53.2,19.66h1.6M321.3,19.66h-1.6M53.2,17.07h1.6M321.3,17.07h-1.6M53.2,14.95h1.6M321.3,14.95h-1.6M53.2,13.15h1.6M321.3,13.15h-1.6M53.2,11.60h1.6M321.3,11.60h-1.6M53.2,10.23h1.6M321.3,10.23h-1.6M53.2,35.80h2.7M321.3,35.80h-2.7M53.2,27.73h1.6M321.3,27.73h-1.6M53.2,23.01h1.6M321.3,23.01h-1.6M53.2,19.66h1.6M321.3,19.66h-1.6M53.2,17.07h1.6M321.3,17.07h-1.6M53.2,14.95h1.6M321.3,14.95h-1.6M53.2,13.15h1.6M321.3,13.15h-1.6M53.2,11.60h1.6M321.3,11.60h-1.6M53.2,10.23h1.6M321.3,10.23h-1.6M53.2,54.53h1.6M321.3,54.53h-1.6M53.2,49.81h1.6M321.3,49.81h-1.6M53.2,46.46h1.6M321.3,46.46h-1.6M53.2,43.87h1.6M321.3,43.87h-1.6M53.2,41.75h1.6M321.3,41.75h-1.6M53.2,39.95h1.6M321.3,39.95h-1.6M53.2,38.40h1.6M321.3,38.40h-1.6M53.2,37.03h1.6M321.3,37.03h-1.6M53.2,62.60h2.7M321.3,62.60h-2.7M53.2,54.53h1.6M321.3,54.53h-1.6M53.2,49.81h1.6M321.3,49.81h-1.6M53.2,46.46h1.6M321.3,46.46h-1.6M53.2,43.87h1.6M321.3,43.87h-1.6M53.2,41.75h1.6M321.3,41.75h-1.6M53.2,39.95h1.6M321.3,39.95h-1.6M53.2,38.40h1.6M321.3,38.40h-1.6M53.2,37.03h1.6M321.3,37.03h-1.6M53.2,81.33h1.6M321.3,81.33h-1.6M53.2,76.61h1.6M321.3,76.61h-1.6M53.2,73.26h1.6M321.3,73.26h-1.6M53.2,70.67h1.6M321.3,70.67h-1.6M53.2,68.55h1.6M321.3,68.55h-1.6M53.2,66.75h1.6M321.3,66.75h-1.6M53.2,65.20h1.6M321.3,65.20h-1.6M53.2,63.83h1.6M321.3,63.83h-1.6M53.2,89.40h2.7M321.3,89.40h-2.7M53.2,81.33h1.6M321.3,81.33h-1.6M53.2,76.61h1.6M321.3,76.61h-1.6M53.2,73.26h1.6M321.3,73.26h-1.6M53.2,70.67h1.6M321.3,70.67h-1.6M53.2,68.55h1.6M321.3,68.55h-1.6M53.2,66.75h1.6M321.3,66.75h-1.6M53.2,65.20h1.6M321.3,65.20h-1.6M53.2,63.83h1.6M321.3,63.83h-1.6M53.2,108.13h1.6M321.3,108.13h-1.6M53.2,103.41h1.6M321.3,103.41h-1.6M53.2,100.06h1.6M321.3,100.06h-1.6M53.2,97.47h1.6M321.3,97.47h-1.6M53.2,95.35h1.6M321.3,95.35h-1.6M53.2,93.55h1.6M321.3,93.55h-1.6M53.2,92.00h1.6M321.3,92.00h-1.6M53.2,90.63h1.6M321.3,90.63h-1.6M53.2,116.20h2.7M321.3,116.20h-2.7M53.2,108.13h1.6M321.3,108.13h-1.6M53.2,103.41h1.6M321.3,103.41h-1.6M53.2,100.06h1.6M321.3,100.06h-1.6M53.2,97.47h1.6M321.3,97.47h-1.6M53.2,95.35h1.6M321.3,95.35h-1.6M53.2,93.55h1.6M321.3,93.55h-1.6M53.2,92.00h1.6M321.3,92.00h-1.6M53.2,90.63h1.6M321.3,90.63h-1.6M53.2,134.93h1.6M321.3,134.93h-1.6M53.2,130.21h1.6M321.3,130.21h-1.6M53.2,126.86h1.6M321.3,126.86h-1.6M53.2,124.27h1.6M321.3,124.27h-1.6M53.2,122.15h1.6M321.3,122.15h-1.6M53.2,120.35h1.6M321.3,120.35h-1.6M53.2,118.80h1.6M321.3,118.80h-1.6M53.2,117.43h1.6M321.3,117.43h-1.6M53.2,143.00h2.7M321.3,143.00h-2.7M53.2,134.93h1.6M321.3,134.93h-1.6M53.2,130.21h1.6M321.3,130.21h-1.6M53.2,126.86h1.6M321.3,126.86h-1.6M53.2,124.27h1.6M321.3,124.27h-1.6M53.2,122.15h1.6M321.3,122.15h-1.6M53.2,120.35h1.6M321.3,120.35h-1.6M53.2,118.80h1.6M321.3,118.80h-1.6M53.2,117.43h1.6M321.3,117.43h-1.6M53.2,161.73h1.6M321.3,161.73h-1.6M53.2,157.01h1.6M321.3,157.01h-1.6M53.2,153.66h1.6M321.3,153.66h-1.6M53.2,151.07h1.6M321.3,151.07h-1.6M53.2,148.95h1.6M321.3,148.95h-1.6M53.2,147.15h1.6M321.3,147.15h-1.6M53.2,145.60h1.6M321.3,145.60h-1.6M53.2,144.23h1.6M321.3,144.23h-1.6M53.2,169.80h2.7M321.3,169.80h-2.7M53.2,161.73h1.6M321.3,161.73h-1.6M53.2,157.01h1.6M321.3,157.01h-1.6M53.2,153.66h1.6M321.3,153.66h-1.6M53.2,151.07h1.6M321.3,151.07h-1.6M53.2,148.95h1.6M321.3,148.95h-1.6M53.2,147.15h1.6M321.3,147.15h-1.6M53.2,145.60h1.6M321.3,145.60h-1.6M53.2,144.23h1.6M321.3,144.23h-1.6M53.2,188.53h1.6M321.3,188.53h-1.6M53.2,183.81h1.6M321.3,183.81h-1.6M53.2,180.46h1.6M321.3,180.46h-1.6M53.2,177.87h1.6M321.3,177.87h-1.6M53.2,175.75h1.6M321.3,175.75h-1.6M53.2,173.95h1.6M321.3,173.95h-1.6M53.2,172.40h1.6M321.3,172.40h-1.6M53.2,171.03h1.6M321.3,171.03h-1.6M53.2,196.60h2.7M321.3,196.60h-2.7M53.2,188.53h1.6M321.3,188.53h-1.6M53.2,183.81h1.6M321.3,183.81h-1.6M53.2,180.46h1.6M321.3,180.46h-1.6M53.2,177.87h1.6M321.3,177.87h-1.6M53.2,175.75h1.6M321.3,175.75h-1.6M53.2,173.95h1.6M321.3,173.95h-1.6M53.2,172.40h1.6M321.3,172.40h-1.6M53.2,171.03h1.6M321.3,171.03h-1.6M53.2,204.67h1.6M321.3,204.67h-1.6M53.2,202.55h1.6M321.3,202.55h-1.6M53.2,200.75h1.6M321.3,200.75h-1.6M53.2,199.20h1.6M321.3,199.20h-1.6M53.2,197.83h1.6M321.3,197.83h-1.6" stroke="#000" stroke-width="0.9" fill="none"/>
<rect x="53.2" y="9.0" width="268.10" height="196.40" fill="none" stroke="#000" stroke-width="1.5"/>
<path d="M403.20,205.4v-2.7M403.20,9.0v2.7M470.23,205.4v-2.7M470.23,9.0v2.7M537.25,205.4v-2.7M537.25,9.0v2.7M604.27,205.4v-2.7M604.27,9.0v2.7M671.30,205.4v-2.7M671.30,9.0v2.7M403.2,9.00h2.7M671.3,9.00h-2.7M403.2,27.73h1.6M671.3,27.73h-1.6M403.2,23.01h1.6M671.3,23.01h-1.6M403.2,19.66h1.6M671.3,19.66h-1.6M403.2,17.07h1.6M671.3,17.07h-1.6M403.2,14.95h1.6M671.3,14.95h-1.6M403.2,13.15h1.6M671.3,13.15h-1.6M403.2,11.60h1.6M671.3,11.60h-1.6M403.2,10.23h1.6M671.3,10.23h-1.6M403.2,35.80h2.7M671.3,35.80h-2.7M403.2,27.73h1.6M671.3,27.73h-1.6M403.2,23.01h1.6M671.3,23.01h-1.6M403.2,19.66h1.6M671.3,19.66h-1.6M403.2,17.07h1.6M671.3,17.07h-1.6M403.2,14.95h1.6M671.3,14.95h-1.6M403.2,13.15h1.6M671.3,13.15h-1.6M403.2,11.60h1.6M671.3,11.60h-1.6M403.2,10.23h1.6M671.3,10.23h-1.6M403.2,54.53h1.6M671.3,54.53h-1.6M403.2,49.81h1.6M671.3,49.81h-1.6M403.2,46.46h1.6M671.3,46.46h-1.6M403.2,43.87h1.6M671.3,43.87h-1.6M403.2,41.75h1.6M671.3,41.75h-1.6M403.2,39.95h1.6M671.3,39.95h-1.6M403.2,38.40h1.6M671.3,38.40h-1.6M403.2,37.03h1.6M671.3,37.03h-1.6M403.2,62.60h2.7M671.3,62.60h-2.7M403.2,54.53h1.6M671.3,54.53h-1.6M403.2,49.81h1.6M671.3,49.81h-1.6M403.2,46.46h1.6M671.3,46.46h-1.6M403.2,43.87h1.6M671.3,43.87h-1.6M403.2,41.75h1.6M671.3,41.75h-1.6M403.2,39.95h1.6M671.3,39.95h-1.6M403.2,38.40h1.6M671.3,38.40h-1.6M403.2,37.03h1.6M671.3,37.03h-1.6M403.2,81.33h1.6M671.3,81.33h-1.6M403.2,76.61h1.6M671.3,76.61h-1.6M403.2,73.26h1.6M671.3,73.26h-1.6M403.2,70.67h1.6M671.3,70.67h-1.6M403.2,68.55h1.6M671.3,68.55h-1.6M403.2,66.75h1.6M671.3,66.75h-1.6M403.2,65.20h1.6M671.3,65.20h-1.6M403.2,63.83h1.6M671.3,63.83h-1.6M403.2,89.40h2.7M671.3,89.40h-2.7M403.2,81.33h1.6M671.3,81.33h-1.6M403.2,76.61h1.6M671.3,76.61h-1.6M403.2,73.26h1.6M671.3,73.26h-1.6M403.2,70.67h1.6M671.3,70.67h-1.6M403.2,68.55h1.6M671.3,68.55h-1.6M403.2,66.75h1.6M671.3,66.75h-1.6M403.2,65.20h1.6M671.3,65.20h-1.6M403.2,63.83h1.6M671.3,63.83h-1.6M403.2,108.13h1.6M671.3,108.13h-1.6M403.2,103.41h1.6M671.3,103.41h-1.6M403.2,100.06h1.6M671.3,100.06h-1.6M403.2,97.47h1.6M671.3,97.47h-1.6M403.2,95.35h1.6M671.3,95.35h-1.6M403.2,93.55h1.6M671.3,93.55h-1.6M403.2,92.00h1.6M671.3,92.00h-1.6M403.2,90.63h1.6M671.3,90.63h-1.6M403.2,116.20h2.7M671.3,116.20h-2.7M403.2,108.13h1.6M671.3,108.13h-1.6M403.2,103.41h1.6M671.3,103.41h-1.6M403.2,100.06h1.6M671.3,100.06h-1.6M403.2,97.47h1.6M671.3,97.47h-1.6M403.2,95.35h1.6M671.3,95.35h-1.6M403.2,93.55h1.6M671.3,93.55h-1.6M403.2,92.00h1.6M671.3,92.00h-1.6M403.2,90.63h1.6M671.3,90.63h-1.6M403.2,134.93h1.6M671.3,134.93h-1.6M403.2,130.21h1.6M671.3,130.21h-1.6M403.2,126.86h1.6M671.3,126.86h-1.6M403.2,124.27h1.6M671.3,124.27h-1.6M403.2,122.15h1.6M671.3,122.15h-1.6M403.2,120.35h1.6M671.3,120.35h-1.6M403.2,118.80h1.6M671.3,118.80h-1.6M403.2,117.43h1.6M671.3,117.43h-1.6M403.2,143.00h2.7M671.3,143.00h-2.7M403.2,134.93h1.6M671.3,134.93h-1.6M403.2,130.21h1.6M671.3,130.21h-1.6M403.2,126.86h1.6M671.3,126.86h-1.6M403.2,124.27h1.6M671.3,124.27h-1.6M403.2,122.15h1.6M671.3,122.15h-1.6M403.2,120.35h1.6M671.3,120.35h-1.6M403.2,118.80h1.6M671.3,118.80h-1.6M403.2,117.43h1.6M671.3,117.43h-1.6M403.2,161.73h1.6M671.3,161.73h-1.6M403.2,157.01h1.6M671.3,157.01h-1.6M403.2,153.66h1.6M671.3,153.66h-1.6M403.2,151.07h1.6M671.3,151.07h-1.6M403.2,148.95h1.6M671.3,148.95h-1.6M403.2,147.15h1.6M671.3,147.15h-1.6M403.2,145.60h1.6M671.3,145.60h-1.6M403.2,144.23h1.6M671.3,144.23h-1.6M403.2,169.80h2.7M671.3,169.80h-2.7M403.2,161.73h1.6M671.3,161.73h-1.6M403.2,157.01h1.6M671.3,157.01h-1.6M403.2,153.66h1.6M671.3,153.66h-1.6M403.2,151.07h1.6M671.3,151.07h-1.6M403.2,148.95h1.6M671.3,148.95h-1.6M403.2,147.15h1.6M671.3,147.15h-1.6M403.2,145.60h1.6M671.3,145.60h-1.6M403.2,144.23h1.6M671.3,144.23h-1.6M403.2,188.53h1.6M671.3,188.53h-1.6M403.2,183.81h1.6M671.3,183.81h-1.6M403.2,180.46h1.6M671.3,180.46h-1.6M403.2,177.87h1.6M671.3,177.87h-1.6M403.2,175.75h1.6M671.3,175.75h-1.6M403.2,173.95h1.6M671.3,173.95h-1.6M403.2,172.40h1.6M671.3,172.40h-1.6M403.2,171.03h1.6M671.3,171.03h-1.6M403.2,196.60h2.7M671.3,196.60h-2.7M403.2,188.53h1.6M671.3,188.53h-1.6M403.2,183.81h1.6M671.3,183.81h-1.6M403.2,180.46h1.6M671.3,180.46h-1.6M403.2,177.87h1.6M671.3,177.87h-1.6M403.2,175.75h1.6M671.3,175.75h-1.6M403.2,173.95h1.6M671.3,173.95h-1.6M403.2,172.40h1.6M671.3,172.40h-1.6M403.2,171.03h1.6M671.3,171.03h-1.6M403.2,204.67h1.6M671.3,204.67h-1.6M403.2,202.55h1.6M671.3,202.55h-1.6M403.2,200.75h1.6M671.3,200.75h-1.6M403.2,199.20h1.6M671.3,199.20h-1.6M403.2,197.83h1.6M671.3,197.83h-1.6" stroke="#000" stroke-width="0.9" fill="none"/>
<rect x="403.2" y="9.0" width="268.10" height="196.40" fill="none" stroke="#000" stroke-width="1.5"/>
<rect x="222.7" y="15.4" width="92.00" height="84.90" fill="#fff" stroke="#000" stroke-width="1.35"/>
<path d="M225.4,23.70H250.1" stroke="#0072BD" stroke-width="2.3"/>
<text transform="matrix(1.0505,0,0,0.9870,252.375,27.901)" font-size="10.7" fill="#000">C8S</text>
<path d="M225.4,37.80H250.1" stroke="#D95319" stroke-width="2.3"/>
<text transform="matrix(1.0915,0,0,0.9870,251.918,41.901)" font-size="10.7" fill="#000">MeOC8S</text>
<path d="M225.4,51.90H250.1" stroke="#EDB120" stroke-width="2.3"/>
<text transform="matrix(1.0880,0,0,0.9870,251.921,55.901)" font-size="10.7" fill="#000">BnOC8S</text>
<path d="M225.4,66.00H250.1" stroke="#7E2F8E" stroke-width="2.3"/>
<text transform="matrix(1.0745,0,0,0.9870,252.363,69.801)" font-size="10.7" fill="#000">9-AMOC8S</text>
<path d="M225.4,80.10H250.1" stroke="#77AC30" stroke-width="2.3"/>
<text transform="matrix(1.0745,0,0,0.9870,252.363,83.801)" font-size="10.7" fill="#000">2-AMOC8S</text>
<path d="M225.4,94.20H250.1" stroke="#4DBEEE" stroke-width="2.3"/>
<text transform="matrix(1.0949,0,0,0.9870,251.915,97.801)" font-size="10.7" fill="#000">PyrMOC8S</text>
<rect x="572.7" y="15.4" width="92.00" height="84.90" fill="#fff" stroke="#000" stroke-width="1.35"/>
<path d="M575.4,23.70H600.1" stroke="#0072BD" stroke-width="2.3"/>
<text transform="matrix(1.0505,0,0,0.9870,602.375,27.901)" font-size="10.7" fill="#000">C8S</text>
<path d="M575.4,37.80H600.1" stroke="#D95319" stroke-width="2.3"/>
<text transform="matrix(1.0915,0,0,0.9870,601.918,41.901)" font-size="10.7" fill="#000">MeOC8S</text>
<path d="M575.4,51.90H600.1" stroke="#EDB120" stroke-width="2.3"/>
<text transform="matrix(1.0880,0,0,0.9870,601.921,55.901)" font-size="10.7" fill="#000">BnOC8S</text>
<path d="M575.4,66.00H600.1" stroke="#7E2F8E" stroke-width="2.3"/>
<text transform="matrix(1.0745,0,0,0.9870,602.363,69.801)" font-size="10.7" fill="#000">9-AMOC8S</text>
<path d="M575.4,80.10H600.1" stroke="#77AC30" stroke-width="2.3"/>
<text transform="matrix(1.0745,0,0,0.9870,602.363,83.801)" font-size="10.7" fill="#000">2-AMOC8S</text>
<path d="M575.4,94.20H600.1" stroke="#4DBEEE" stroke-width="2.3"/>
<text transform="matrix(1.0949,0,0,0.9870,601.915,97.801)" font-size="10.7" fill="#000">PyrMOC8S</text>
<text transform="matrix(1.0700,0,0,1.0235,47.465,221.300)" font-size="12.2">-4</text>
<text transform="matrix(1.0816,0,0,1.0116,113.759,221.300)" font-size="12.2">-2</text>
<text transform="matrix(1.0517,0,0,1.0000,183.774,221.200)" font-size="12.2">0</text>
<text transform="matrix(1.0893,0,0,1.0116,250.746,221.300)" font-size="12.2">2</text>
<text transform="matrix(1.0656,0,0,1.0235,317.880,221.300)" font-size="12.2">4</text>
<text transform="matrix(0.9744,0,0,1.0345,145.126,241.400)" font-size="12.6">E-E</text>
<text transform="matrix(1.0928,0,0,1.0274,165.626,235.000)" font-size="10.5">DFT</text>
<text transform="matrix(0.8163,0,0,1.0435,166.647,248.700)" font-size="10.0">F</text>
<text transform="matrix(1.2162,0,0,1.0678,201.627,241.124)" font-size="12.6">(eV)</text>
<text transform="matrix(1.0902,0,0,1.0115,27.119,15.199)" font-size="12.2">10</text>
<text transform="matrix(1.1591,0,0,1.0000,42.352,8.900)" font-size="9.1">0</text>
<text transform="matrix(1.0820,0,0,1.0115,23.326,68.799)" font-size="12.2">10</text>
<text transform="matrix(1.1528,0,0,1.0156,39.039,62.600)" font-size="9.1">-2</text>
<text transform="matrix(1.0820,0,0,1.0115,23.326,122.399)" font-size="12.2">10</text>
<text transform="matrix(1.1892,0,0,1.0317,38.524,116.200)" font-size="9.1">-4</text>
<text transform="matrix(1.0820,0,0,1.0115,23.326,175.999)" font-size="12.2">10</text>
<text transform="matrix(1.1370,0,0,1.0000,39.045,169.700)" font-size="9.1">-6</text>
<text transform="matrix(0,-1.0870,1.0595,0,16.800,111.226)" font-size="12.2">T</text>
<text transform="matrix(1.0700,0,0,1.0235,397.465,221.300)" font-size="12.2">-4</text>
<text transform="matrix(1.0816,0,0,1.0116,463.759,221.300)" font-size="12.2">-2</text>
<text transform="matrix(1.0517,0,0,1.0000,533.774,221.200)" font-size="12.2">0</text>
<text transform="matrix(1.0893,0,0,1.0116,600.746,221.300)" font-size="12.2">2</text>
<text transform="matrix(1.0656,0,0,1.0235,667.880,221.300)" font-size="12.2">4</text>
<text transform="matrix(0.9744,0,0,1.0345,495.126,241.400)" font-size="12.6">E-E</text>
<text transform="matrix(1.0928,0,0,1.0274,515.626,235.000)" font-size="10.5">DFT</text>
<text transform="matrix(0.8163,0,0,1.0435,516.647,248.700)" font-size="10.0">F</text>
<text transform="matrix(1.2162,0,0,1.0678,551.627,241.124)" font-size="12.6">(eV)</text>
<text transform="matrix(1.0902,0,0,1.0115,377.119,15.199)" font-size="12.2">10</text>
<text transform="matrix(1.1591,0,0,1.0000,392.352,8.900)" font-size="9.1">0</text>
<text transform="matrix(1.0820,0,0,1.0115,373.326,68.799)" font-size="12.2">10</text>
<text transform="matrix(1.1528,0,0,1.0156,389.039,62.600)" font-size="9.1">-2</text>
<text transform="matrix(1.0820,0,0,1.0115,373.326,122.399)" font-size="12.2">10</text>
<text transform="matrix(1.1892,0,0,1.0317,388.524,116.200)" font-size="9.1">-4</text>
<text transform="matrix(1.0820,0,0,1.0115,373.326,175.999)" font-size="12.2">10</text>
<text transform="matrix(1.1370,0,0,1.0000,389.045,169.700)" font-size="9.1">-6</text>
<text transform="matrix(0,-1.0870,1.0595,0,366.800,111.226)" font-size="12.2">T</text>
<text transform="matrix(0.6625,0,0,0.8824,1.339,28.935)" font-size="31" fill="#000" style="stroke-width:0.8px;stroke:#000">a</text>
<text transform="matrix(0.8857,0,0,1.0132,346.229,29.596)" font-size="31" fill="#000" style="stroke-width:0.6px;stroke:#000">b</text>
</svg>
</body></html>
